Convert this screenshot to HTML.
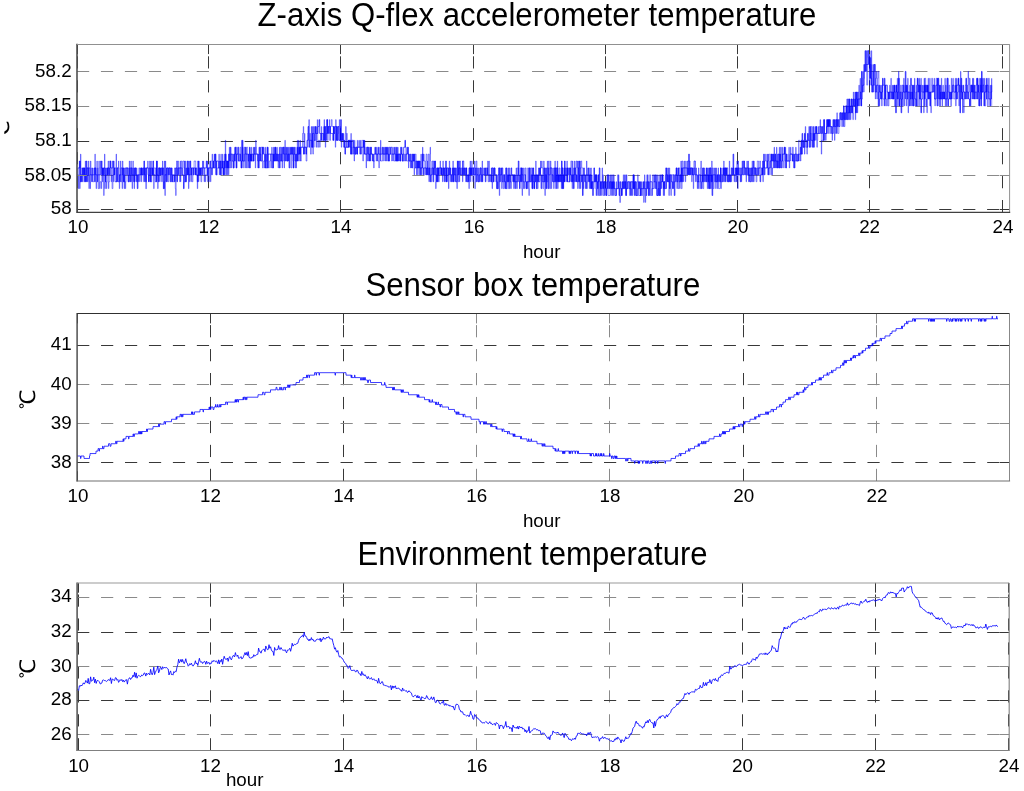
<!DOCTYPE html><html><head><meta charset="utf-8"><title>Temperature plots</title>
<style>html,body{margin:0;padding:0;background:#fff;}svg{display:block;}</style></head><body>
<svg width="1024" height="791" viewBox="0 0 1024 791">
<rect x="0" y="0" width="1024" height="791" fill="#fff"/>
<g stroke-width="1" stroke-dasharray="12.2 11.75" fill="none"><line x1="77.5" y1="212.2" x2="77.5" y2="44.3" stroke="#383838"/><line x1="208.5" y1="212.2" x2="208.5" y2="44.3" stroke="#383838"/><line x1="340.5" y1="212.2" x2="340.5" y2="44.3" stroke="#383838"/><line x1="473.5" y1="212.2" x2="473.5" y2="44.3" stroke="#383838"/><line x1="605.5" y1="212.2" x2="605.5" y2="44.3" stroke="#383838"/><line x1="737.5" y1="212.2" x2="737.5" y2="44.3" stroke="#383838"/><line x1="869.5" y1="212.2" x2="869.5" y2="44.3" stroke="#383838"/><line x1="1002.5" y1="212.2" x2="1002.5" y2="44.3" stroke="#383838"/><line x1="77" y1="71.5" x2="1009.7" y2="71.5" stroke="#8a8a8a"/><line x1="77" y1="106.5" x2="1009.7" y2="106.5" stroke="#8a8a8a"/><line x1="77" y1="141.5" x2="1009.7" y2="141.5" stroke="#383838"/><line x1="77" y1="175.5" x2="1009.7" y2="175.5" stroke="#8a8a8a"/><line x1="77" y1="209.5" x2="1009.7" y2="209.5" stroke="#383838"/></g>
<polyline points="77.3,181.72 77.7,181.72 77.7,174.83 78.1,174.83 78.1,174.83 78.5,174.83 78.5,188.62 78.9,188.62 78.9,174.83 79.3,174.83 79.3,161.04 79.7,161.04 79.7,188.62 80.1,188.62 80.1,181.72 80.5,181.72 80.5,154.14 80.9,154.14 80.9,167.93 81.3,167.93 81.3,174.83 81.7,174.83 81.7,174.83 82.1,174.83 82.1,167.93 82.5,167.93 82.5,181.72 82.9,181.72 82.9,181.72 83.3,181.72 83.3,167.93 83.7,167.93 83.7,167.93 84.1,167.93 84.1,174.83 84.5,174.83 84.5,167.93 84.9,167.93 84.9,174.83 85.3,174.83 85.3,161.04 85.7,161.04 85.7,181.72 86.1,181.72 86.1,167.93 86.5,167.93 86.5,174.83 86.9,174.83 86.9,181.72 87.3,181.72 87.3,167.93 87.7,167.93 87.7,181.72 88.1,181.72 88.1,167.93 88.5,167.93 88.5,161.04 88.9,161.04 88.9,188.62 89.3,188.62 89.3,174.83 89.7,174.83 89.7,181.72 90.1,181.72 90.1,188.62 90.5,188.62 90.5,161.04 90.9,161.04 90.9,174.83 91.3,174.83 91.3,181.72 91.7,181.72 91.7,167.93 92.1,167.93 92.1,181.72 92.5,181.72 92.5,167.93 92.9,167.93 92.9,181.72 93.3,181.72 93.3,181.72 93.7,181.72 93.7,181.72 94.1,181.72 94.1,174.83 94.5,174.83 94.5,174.83 94.9,174.83 94.9,154.14 95.3,154.14 95.3,167.93 95.7,167.93 95.7,174.83 96.1,174.83 96.1,188.62 96.5,188.62 96.5,181.72 96.9,181.72 96.9,161.04 97.3,161.04 97.3,174.83 97.7,174.83 97.7,167.93 98.1,167.93 98.1,188.62 98.5,188.62 98.5,188.62 98.9,188.62 98.9,161.04 99.3,161.04 99.3,167.93 99.7,167.93 99.7,188.62 100.1,188.62 100.1,181.72 100.5,181.72 100.5,181.72 100.9,181.72 100.9,181.72 101.3,181.72 101.3,188.62 101.7,188.62 101.7,161.04 102.1,161.04 102.1,174.83 102.5,174.83 102.5,181.72 102.9,181.72 102.9,167.93 103.3,167.93 103.3,181.72 103.7,181.72 103.7,195.51 104.1,195.51 104.1,167.93 104.5,167.93 104.5,154.14 104.9,154.14 104.9,188.62 105.3,188.62 105.3,167.93 105.7,167.93 105.7,181.72 106.1,181.72 106.1,181.72 106.5,181.72 106.5,188.62 106.9,188.62 106.9,181.72 107.3,181.72 107.3,167.93 107.7,167.93 107.7,174.83 108.1,174.83 108.1,161.04 108.5,161.04 108.5,188.62 108.9,188.62 108.9,181.72 109.3,181.72 109.3,181.72 109.7,181.72 109.7,161.04 110.1,161.04 110.1,161.04 110.5,161.04 110.5,174.83 110.9,174.83 110.9,174.83 111.3,174.83 111.3,181.72 111.7,181.72 111.7,167.93 112.1,167.93 112.1,188.62 112.5,188.62 112.5,188.62 112.9,188.62 112.9,174.83 113.3,174.83 113.3,181.72 113.7,181.72 113.7,161.04 114.1,161.04 114.1,167.93 114.5,167.93 114.5,174.83 114.9,174.83 114.9,167.93 115.3,167.93 115.3,167.93 115.7,167.93 115.7,167.93 116.1,167.93 116.1,154.14 116.5,154.14 116.5,181.72 116.9,181.72 116.9,167.93 117.3,167.93 117.3,181.72 117.7,181.72 117.7,174.83 118.1,174.83 118.1,167.93 118.5,167.93 118.5,161.04 118.9,161.04 118.9,167.93 119.3,167.93 119.3,188.62 119.7,188.62 119.7,174.83 120.1,174.83 120.1,181.72 120.5,181.72 120.5,161.04 120.9,161.04 120.9,181.72 121.3,181.72 121.3,181.72 121.7,181.72 121.7,174.83 122.1,174.83 122.1,188.62 122.5,188.62 122.5,161.04 122.9,161.04 122.9,167.93 123.3,167.93 123.3,181.72 123.7,181.72 123.7,174.83 124.1,174.83 124.1,188.62 124.5,188.62 124.5,167.93 124.9,167.93 124.9,181.72 125.3,181.72 125.3,188.62 125.7,188.62 125.7,181.72 126.1,181.72 126.1,174.83 126.5,174.83 126.5,167.93 126.9,167.93 126.9,174.83 127.3,174.83 127.3,167.93 127.7,167.93 127.7,174.83 128.1,174.83 128.1,181.72 128.5,181.72 128.5,181.72 128.9,181.72 128.9,181.72 129.3,181.72 129.3,161.04 129.7,161.04 129.7,181.72 130.1,181.72 130.1,181.72 130.5,181.72 130.5,174.83 130.9,174.83 130.9,161.04 131.3,161.04 131.3,167.93 131.7,167.93 131.7,167.93 132.1,167.93 132.1,188.62 132.5,188.62 132.5,167.93 132.9,167.93 132.9,161.04 133.3,161.04 133.3,181.72 133.7,181.72 133.7,174.83 134.1,174.83 134.1,188.62 134.5,188.62 134.5,174.83 134.9,174.83 134.9,167.93 135.3,167.93 135.3,167.93 135.7,167.93 135.7,167.93 136.1,167.93 136.1,181.72 136.5,181.72 136.5,167.93 136.9,167.93 136.9,181.72 137.3,181.72 137.3,181.72 137.7,181.72 137.7,174.83 138.1,174.83 138.1,174.83 138.5,174.83 138.5,181.72 138.9,181.72 138.9,167.93 139.3,167.93 139.3,167.93 139.7,167.93 139.7,181.72 140.1,181.72 140.1,167.93 140.5,167.93 140.5,174.83 140.9,174.83 140.9,167.93 141.3,167.93 141.3,181.72 141.7,181.72 141.7,167.93 142.1,167.93 142.1,174.83 142.5,174.83 142.5,174.83 142.9,174.83 142.9,167.93 143.3,167.93 143.3,174.83 143.7,174.83 143.7,181.72 144.1,181.72 144.1,167.93 144.5,167.93 144.5,181.72 144.9,181.72 144.9,174.83 145.3,174.83 145.3,174.83 145.7,174.83 145.7,188.62 146.1,188.62 146.1,188.62 146.5,188.62 146.5,167.93 146.9,167.93 146.9,167.93 147.3,167.93 147.3,167.93 147.7,167.93 147.7,161.04 148.1,161.04 148.1,167.93 148.5,167.93 148.5,181.72 148.9,181.72 148.9,174.83 149.3,174.83 149.3,174.83 149.7,174.83 149.7,161.04 150.1,161.04 150.1,174.83 150.5,174.83 150.5,181.72 150.9,181.72 150.9,161.04 151.3,161.04 151.3,167.93 151.7,167.93 151.7,167.93 152.1,167.93 152.1,174.83 152.5,174.83 152.5,167.93 152.9,167.93 152.9,174.83 153.3,174.83 153.3,174.83 153.7,174.83 153.7,188.62 154.1,188.62 154.1,167.93 154.5,167.93 154.5,167.93 154.9,167.93 154.9,167.93 155.3,167.93 155.3,167.93 155.7,167.93 155.7,174.83 156.1,174.83 156.1,167.93 156.5,167.93 156.5,181.72 156.9,181.72 156.9,161.04 157.3,161.04 157.3,174.83 157.7,174.83 157.7,188.62 158.1,188.62 158.1,167.93 158.5,167.93 158.5,167.93 158.9,167.93 158.9,174.83 159.3,174.83 159.3,167.93 159.7,167.93 159.7,181.72 160.1,181.72 160.1,167.93 160.5,167.93 160.5,174.83 160.9,174.83 160.9,167.93 161.3,167.93 161.3,174.83 161.7,174.83 161.7,181.72 162.1,181.72 162.1,174.83 162.5,174.83 162.5,161.04 162.9,161.04 162.9,181.72 163.3,181.72 163.3,188.62 163.7,188.62 163.7,188.62 164.1,188.62 164.1,174.83 164.5,174.83 164.5,161.04 164.9,161.04 164.9,195.51 165.3,195.51 165.3,161.04 165.7,161.04 165.7,174.83 166.1,174.83 166.1,174.83 166.5,174.83 166.5,167.93 166.9,167.93 166.9,181.72 167.3,181.72 167.3,167.93 167.7,167.93 167.7,174.83 168.1,174.83 168.1,181.72 168.5,181.72 168.5,181.72 168.9,181.72 168.9,167.93 169.3,167.93 169.3,167.93 169.7,167.93 169.7,174.83 170.1,174.83 170.1,174.83 170.5,174.83 170.5,167.93 170.9,167.93 170.9,167.93 171.3,167.93 171.3,181.72 171.7,181.72 171.7,181.72 172.1,181.72 172.1,174.83 172.5,174.83 172.5,174.83 172.9,174.83 172.9,181.72 173.3,181.72 173.3,181.72 173.7,181.72 173.7,181.72 174.1,181.72 174.1,174.83 174.5,174.83 174.5,167.93 174.9,167.93 174.9,167.93 175.3,167.93 175.3,188.62 175.7,188.62 175.7,195.51 176.1,195.51 176.1,174.83 176.5,174.83 176.5,161.04 176.9,161.04 176.9,161.04 177.3,161.04 177.3,174.83 177.7,174.83 177.7,161.04 178.1,161.04 178.1,161.04 178.5,161.04 178.5,174.83 178.9,174.83 178.9,167.93 179.3,167.93 179.3,174.83 179.7,174.83 179.7,181.72 180.1,181.72 180.1,161.04 180.5,161.04 180.5,181.72 180.9,181.72 180.9,167.93 181.3,167.93 181.3,161.04 181.7,161.04 181.7,161.04 182.1,161.04 182.1,167.93 182.5,167.93 182.5,174.83 182.9,174.83 182.9,161.04 183.3,161.04 183.3,161.04 183.7,161.04 183.7,161.04 184.1,161.04 184.1,167.93 184.5,167.93 184.5,167.93 184.9,167.93 184.9,174.83 185.3,174.83 185.3,181.72 185.7,181.72 185.7,174.83 186.1,174.83 186.1,167.93 186.5,167.93 186.5,174.83 186.9,174.83 186.9,167.93 187.3,167.93 187.3,174.83 187.7,174.83 187.7,174.83 188.1,174.83 188.1,161.04 188.5,161.04 188.5,188.62 188.9,188.62 188.9,174.83 189.3,174.83 189.3,181.72 189.7,181.72 189.7,161.04 190.1,161.04 190.1,174.83 190.5,174.83 190.5,174.83 190.9,174.83 190.9,181.72 191.3,181.72 191.3,167.93 191.7,167.93 191.7,174.83 192.1,174.83 192.1,181.72 192.5,181.72 192.5,181.72 192.9,181.72 192.9,174.83 193.3,174.83 193.3,167.93 193.7,167.93 193.7,167.93 194.1,167.93 194.1,161.04 194.5,161.04 194.5,161.04 194.9,161.04 194.9,161.04 195.3,161.04 195.3,161.04 195.7,161.04 195.7,174.83 196.1,174.83 196.1,167.93 196.5,167.93 196.5,167.93 196.9,167.93 196.9,174.83 197.3,174.83 197.3,188.62 197.7,188.62 197.7,161.04 198.1,161.04 198.1,174.83 198.5,174.83 198.5,181.72 198.9,181.72 198.9,167.93 199.3,167.93 199.3,167.93 199.7,167.93 199.7,174.83 200.1,174.83 200.1,174.83 200.5,174.83 200.5,167.93 200.9,167.93 200.9,181.72 201.3,181.72 201.3,181.72 201.7,181.72 201.7,167.93 202.1,167.93 202.1,167.93 202.5,167.93 202.5,161.04 202.9,161.04 202.9,167.93 203.3,167.93 203.3,161.04 203.7,161.04 203.7,174.83 204.1,174.83 204.1,181.72 204.5,181.72 204.5,167.93 204.9,167.93 204.9,174.83 205.3,174.83 205.3,181.72 205.7,181.72 205.7,174.83 206.1,174.83 206.1,174.83 206.5,174.83 206.5,174.83 206.9,174.83 206.9,167.93 207.3,167.93 207.3,161.04 207.7,161.04 207.7,181.72 208.1,181.72 208.1,174.83 208.5,174.83 208.5,167.93 208.9,167.93 208.9,181.72 209.3,181.72 209.3,167.93 209.7,167.93 209.7,167.93 210.1,167.93 210.1,167.93 210.5,167.93 210.5,181.72 210.9,181.72 210.9,167.93 211.3,167.93 211.3,161.04 211.7,161.04 211.7,161.04 212.1,161.04 212.1,154.14 212.5,154.14 212.5,167.93 212.9,167.93 212.9,161.04 213.3,161.04 213.3,167.93 213.7,167.93 213.7,167.93 214.1,167.93 214.1,154.14 214.5,154.14 214.5,161.04 214.9,161.04 214.9,154.14 215.3,154.14 215.3,161.04 215.7,161.04 215.7,161.04 216.1,161.04 216.1,174.83 216.5,174.83 216.5,174.83 216.9,174.83 216.9,174.83 217.3,174.83 217.3,167.93 217.7,167.93 217.7,167.93 218.1,167.93 218.1,167.93 218.5,167.93 218.5,167.93 218.9,167.93 218.9,154.14 219.3,154.14 219.3,174.83 219.7,174.83 219.7,161.04 220.1,161.04 220.1,174.83 220.5,174.83 220.5,167.93 220.9,167.93 220.9,154.14 221.3,154.14 221.3,161.04 221.7,161.04 221.7,167.93 222.1,167.93 222.1,167.93 222.5,167.93 222.5,154.14 222.9,154.14 222.9,167.93 223.3,167.93 223.3,174.83 223.7,174.83 223.7,167.93 224.1,167.93 224.1,174.83 224.5,174.83 224.5,154.14 224.9,154.14 224.9,174.83 225.3,174.83 225.3,140.35 225.7,140.35 225.7,167.93 226.1,167.93 226.1,167.93 226.5,167.93 226.5,161.04 226.9,161.04 226.9,167.93 227.3,167.93 227.3,161.04 227.7,161.04 227.7,167.93 228.1,167.93 228.1,161.04 228.5,161.04 228.5,174.83 228.9,174.83 228.9,167.93 229.3,167.93 229.3,147.25 229.7,147.25 229.7,167.93 230.1,167.93 230.1,167.93 230.5,167.93 230.5,154.14 230.9,154.14 230.9,154.14 231.3,154.14 231.3,167.93 231.7,167.93 231.7,161.04 232.1,161.04 232.1,154.14 232.5,154.14 232.5,154.14 232.9,154.14 232.9,154.14 233.3,154.14 233.3,167.93 233.7,167.93 233.7,167.93 234.1,167.93 234.1,154.14 234.5,154.14 234.5,154.14 234.9,154.14 234.9,147.25 235.3,147.25 235.3,154.14 235.7,154.14 235.7,161.04 236.1,161.04 236.1,167.93 236.5,167.93 236.5,147.25 236.9,147.25 236.9,147.25 237.3,147.25 237.3,154.14 237.7,154.14 237.7,154.14 238.1,154.14 238.1,161.04 238.5,161.04 238.5,161.04 238.9,161.04 238.9,154.14 239.3,154.14 239.3,154.14 239.7,154.14 239.7,154.14 240.1,154.14 240.1,147.25 240.5,147.25 240.5,147.25 240.9,147.25 240.9,161.04 241.3,161.04 241.3,167.93 241.7,167.93 241.7,140.35 242.1,140.35 242.1,161.04 242.5,161.04 242.5,147.25 242.9,147.25 242.9,167.93 243.3,167.93 243.3,161.04 243.7,161.04 243.7,154.14 244.1,154.14 244.1,147.25 244.5,147.25 244.5,147.25 244.9,147.25 244.9,167.93 245.3,167.93 245.3,161.04 245.7,161.04 245.7,154.14 246.1,154.14 246.1,167.93 246.5,167.93 246.5,147.25 246.9,147.25 246.9,147.25 247.3,147.25 247.3,147.25 247.7,147.25 247.7,167.93 248.1,167.93 248.1,154.14 248.5,154.14 248.5,161.04 248.9,161.04 248.9,154.14 249.3,154.14 249.3,154.14 249.7,154.14 249.7,154.14 250.1,154.14 250.1,167.93 250.5,167.93 250.5,154.14 250.9,154.14 250.9,161.04 251.3,161.04 251.3,147.25 251.7,147.25 251.7,161.04 252.1,161.04 252.1,161.04 252.5,161.04 252.5,161.04 252.9,161.04 252.9,161.04 253.3,161.04 253.3,147.25 253.7,147.25 253.7,161.04 254.1,161.04 254.1,147.25 254.5,147.25 254.5,154.14 254.9,154.14 254.9,147.25 255.3,147.25 255.3,167.93 255.7,167.93 255.7,140.35 256.1,140.35 256.1,147.25 256.5,147.25 256.5,154.14 256.9,154.14 256.9,154.14 257.3,154.14 257.3,154.14 257.7,154.14 257.7,161.04 258.1,161.04 258.1,154.14 258.5,154.14 258.5,161.04 258.9,161.04 258.9,167.93 259.3,167.93 259.3,154.14 259.7,154.14 259.7,161.04 260.1,161.04 260.1,147.25 260.5,147.25 260.5,161.04 260.9,161.04 260.9,147.25 261.3,147.25 261.3,147.25 261.7,147.25 261.7,147.25 262.1,147.25 262.1,147.25 262.5,147.25 262.5,167.93 262.9,167.93 262.9,167.93 263.3,167.93 263.3,161.04 263.7,161.04 263.7,161.04 264.1,161.04 264.1,161.04 264.5,161.04 264.5,167.93 264.9,167.93 264.9,167.93 265.3,167.93 265.3,147.25 265.7,147.25 265.7,161.04 266.1,161.04 266.1,161.04 266.5,161.04 266.5,161.04 266.9,161.04 266.9,147.25 267.3,147.25 267.3,147.25 267.7,147.25 267.7,167.93 268.1,167.93 268.1,154.14 268.5,154.14 268.5,167.93 268.9,167.93 268.9,167.93 269.3,167.93 269.3,161.04 269.7,161.04 269.7,161.04 270.1,161.04 270.1,161.04 270.5,161.04 270.5,154.14 270.9,154.14 270.9,167.93 271.3,167.93 271.3,161.04 271.7,161.04 271.7,147.25 272.1,147.25 272.1,167.93 272.5,167.93 272.5,167.93 272.9,167.93 272.9,161.04 273.3,161.04 273.3,147.25 273.7,147.25 273.7,161.04 274.1,161.04 274.1,154.14 274.5,154.14 274.5,147.25 274.9,147.25 274.9,161.04 275.3,161.04 275.3,147.25 275.7,147.25 275.7,161.04 276.1,161.04 276.1,154.14 276.5,154.14 276.5,154.14 276.9,154.14 276.9,147.25 277.3,147.25 277.3,161.04 277.7,161.04 277.7,154.14 278.1,154.14 278.1,167.93 278.5,167.93 278.5,161.04 278.9,161.04 278.9,154.14 279.3,154.14 279.3,147.25 279.7,147.25 279.7,154.14 280.1,154.14 280.1,147.25 280.5,147.25 280.5,147.25 280.9,147.25 280.9,161.04 281.3,161.04 281.3,147.25 281.7,147.25 281.7,154.14 282.1,154.14 282.1,167.93 282.5,167.93 282.5,147.25 282.9,147.25 282.9,154.14 283.3,154.14 283.3,147.25 283.7,147.25 283.7,154.14 284.1,154.14 284.1,167.93 284.5,167.93 284.5,154.14 284.9,154.14 284.9,140.35 285.3,140.35 285.3,154.14 285.7,154.14 285.7,147.25 286.1,147.25 286.1,154.14 286.5,154.14 286.5,147.25 286.9,147.25 286.9,161.04 287.3,161.04 287.3,147.25 287.7,147.25 287.7,161.04 288.1,161.04 288.1,147.25 288.5,147.25 288.5,161.04 288.9,161.04 288.9,154.14 289.3,154.14 289.3,147.25 289.7,147.25 289.7,154.14 290.1,154.14 290.1,154.14 290.5,154.14 290.5,147.25 290.9,147.25 290.9,167.93 291.3,167.93 291.3,167.93 291.7,167.93 291.7,154.14 292.1,154.14 292.1,147.25 292.5,147.25 292.5,154.14 292.9,154.14 292.9,161.04 293.3,161.04 293.3,167.93 293.7,167.93 293.7,154.14 294.1,154.14 294.1,154.14 294.5,154.14 294.5,154.14 294.9,154.14 294.9,154.14 295.3,154.14 295.3,161.04 295.7,161.04 295.7,147.25 296.1,147.25 296.1,161.04 296.5,161.04 296.5,161.04 296.9,161.04 296.9,161.04 297.3,161.04 297.3,140.35 297.7,140.35 297.7,154.14 298.1,154.14 298.1,161.04 298.5,161.04 298.5,140.35 298.9,140.35 298.9,154.14 299.3,154.14 299.3,147.25 299.7,147.25 299.7,161.04 300.1,161.04 300.1,140.35 300.5,140.35 300.5,161.04 300.9,161.04 300.9,161.04 301.3,161.04 301.3,147.25 301.7,147.25 301.7,147.25 302.1,147.25 302.1,147.25 302.5,147.25 302.5,133.46 302.9,133.46 302.9,133.46 303.3,133.46 303.3,126.56 303.7,126.56 303.7,147.25 304.1,147.25 304.1,154.14 304.5,154.14 304.5,133.46 304.9,133.46 304.9,147.25 305.3,147.25 305.3,147.25 305.7,147.25 305.7,147.25 306.1,147.25 306.1,161.04 306.5,161.04 306.5,161.04 306.9,161.04 306.9,147.25 307.3,147.25 307.3,140.35 307.7,140.35 307.7,133.46 308.1,133.46 308.1,126.56 308.5,126.56 308.5,126.56 308.9,126.56 308.9,119.67 309.3,119.67 309.3,140.35 309.7,140.35 309.7,133.46 310.1,133.46 310.1,133.46 310.5,133.46 310.5,154.14 310.9,154.14 310.9,154.14 311.3,154.14 311.3,126.56 311.7,126.56 311.7,147.25 312.1,147.25 312.1,126.56 312.5,126.56 312.5,147.25 312.9,147.25 312.9,154.14 313.3,154.14 313.3,133.46 313.7,133.46 313.7,147.25 314.1,147.25 314.1,140.35 314.5,140.35 314.5,140.35 314.9,140.35 314.9,140.35 315.3,140.35 315.3,140.35 315.7,140.35 315.7,126.56 316.1,126.56 316.1,147.25 316.5,147.25 316.5,133.46 316.9,133.46 316.9,133.46 317.3,133.46 317.3,119.67 317.7,119.67 317.7,147.25 318.1,147.25 318.1,147.25 318.5,147.25 318.5,140.35 318.9,140.35 318.9,140.35 319.3,140.35 319.3,140.35 319.7,140.35 319.7,147.25 320.1,147.25 320.1,140.35 320.5,140.35 320.5,140.35 320.9,140.35 320.9,133.46 321.3,133.46 321.3,126.56 321.7,126.56 321.7,133.46 322.1,133.46 322.1,140.35 322.5,140.35 322.5,140.35 322.9,140.35 322.9,140.35 323.3,140.35 323.3,140.35 323.7,140.35 323.7,133.46 324.1,133.46 324.1,119.67 324.5,119.67 324.5,126.56 324.9,126.56 324.9,140.35 325.3,140.35 325.3,147.25 325.7,147.25 325.7,140.35 326.1,140.35 326.1,133.46 326.5,133.46 326.5,133.46 326.9,133.46 326.9,119.67 327.3,119.67 327.3,140.35 327.7,140.35 327.7,140.35 328.1,140.35 328.1,126.56 328.5,126.56 328.5,126.56 328.9,126.56 328.9,126.56 329.3,126.56 329.3,119.67 329.7,119.67 329.7,140.35 330.1,140.35 330.1,140.35 330.5,140.35 330.5,126.56 330.9,126.56 330.9,126.56 331.3,126.56 331.3,119.67 331.7,119.67 331.7,119.67 332.1,119.67 332.1,126.56 332.5,126.56 332.5,126.56 332.9,126.56 332.9,126.56 333.3,126.56 333.3,140.35 333.7,140.35 333.7,126.56 334.1,126.56 334.1,133.46 334.5,133.46 334.5,133.46 334.9,133.46 334.9,140.35 335.3,140.35 335.3,147.25 335.7,147.25 335.7,119.67 336.1,119.67 336.1,126.56 336.5,126.56 336.5,126.56 336.9,126.56 336.9,140.35 337.3,140.35 337.3,140.35 337.7,140.35 337.7,140.35 338.1,140.35 338.1,133.46 338.5,133.46 338.5,126.56 338.9,126.56 338.9,126.56 339.3,126.56 339.3,119.67 339.7,119.67 339.7,140.35 340.1,140.35 340.1,126.56 340.5,126.56 340.5,140.35 340.9,140.35 340.9,133.46 341.3,133.46 341.3,147.25 341.7,147.25 341.7,133.46 342.1,133.46 342.1,133.46 342.5,133.46 342.5,140.35 342.9,140.35 342.9,140.35 343.3,140.35 343.3,133.46 343.7,133.46 343.7,147.25 344.1,147.25 344.1,140.35 344.5,140.35 344.5,147.25 344.9,147.25 344.9,147.25 345.3,147.25 345.3,133.46 345.7,133.46 345.7,126.56 346.1,126.56 346.1,147.25 346.5,147.25 346.5,133.46 346.9,133.46 346.9,133.46 347.3,133.46 347.3,147.25 347.7,147.25 347.7,147.25 348.1,147.25 348.1,140.35 348.5,140.35 348.5,147.25 348.9,147.25 348.9,140.35 349.3,140.35 349.3,147.25 349.7,147.25 349.7,140.35 350.1,140.35 350.1,140.35 350.5,140.35 350.5,154.14 350.9,154.14 350.9,133.46 351.3,133.46 351.3,147.25 351.7,147.25 351.7,154.14 352.1,154.14 352.1,154.14 352.5,154.14 352.5,147.25 352.9,147.25 352.9,140.35 353.3,140.35 353.3,154.14 353.7,154.14 353.7,147.25 354.1,147.25 354.1,161.04 354.5,161.04 354.5,140.35 354.9,140.35 354.9,154.14 355.3,154.14 355.3,154.14 355.7,154.14 355.7,154.14 356.1,154.14 356.1,147.25 356.5,147.25 356.5,147.25 356.9,147.25 356.9,154.14 357.3,154.14 357.3,140.35 357.7,140.35 357.7,147.25 358.1,147.25 358.1,147.25 358.5,147.25 358.5,147.25 358.9,147.25 358.9,140.35 359.3,140.35 359.3,147.25 359.7,147.25 359.7,147.25 360.1,147.25 360.1,140.35 360.5,140.35 360.5,147.25 360.9,147.25 360.9,147.25 361.3,147.25 361.3,154.14 361.7,154.14 361.7,140.35 362.1,140.35 362.1,140.35 362.5,140.35 362.5,140.35 362.9,140.35 362.9,161.04 363.3,161.04 363.3,154.14 363.7,154.14 363.7,140.35 364.1,140.35 364.1,154.14 364.5,154.14 364.5,140.35 364.9,140.35 364.9,147.25 365.3,147.25 365.3,154.14 365.7,154.14 365.7,154.14 366.1,154.14 366.1,167.93 366.5,167.93 366.5,147.25 366.9,147.25 366.9,147.25 367.3,147.25 367.3,161.04 367.7,161.04 367.7,147.25 368.1,147.25 368.1,147.25 368.5,147.25 368.5,161.04 368.9,161.04 368.9,154.14 369.3,154.14 369.3,147.25 369.7,147.25 369.7,154.14 370.1,154.14 370.1,161.04 370.5,161.04 370.5,147.25 370.9,147.25 370.9,147.25 371.3,147.25 371.3,154.14 371.7,154.14 371.7,154.14 372.1,154.14 372.1,161.04 372.5,161.04 372.5,154.14 372.9,154.14 372.9,161.04 373.3,161.04 373.3,161.04 373.7,161.04 373.7,167.93 374.1,167.93 374.1,161.04 374.5,161.04 374.5,161.04 374.9,161.04 374.9,154.14 375.3,154.14 375.3,154.14 375.7,154.14 375.7,154.14 376.1,154.14 376.1,147.25 376.5,147.25 376.5,161.04 376.9,161.04 376.9,154.14 377.3,154.14 377.3,161.04 377.7,161.04 377.7,154.14 378.1,154.14 378.1,161.04 378.5,161.04 378.5,161.04 378.9,161.04 378.9,167.93 379.3,167.93 379.3,154.14 379.7,154.14 379.7,147.25 380.1,147.25 380.1,161.04 380.5,161.04 380.5,140.35 380.9,140.35 380.9,161.04 381.3,161.04 381.3,161.04 381.7,161.04 381.7,161.04 382.1,161.04 382.1,161.04 382.5,161.04 382.5,154.14 382.9,154.14 382.9,154.14 383.3,154.14 383.3,147.25 383.7,147.25 383.7,161.04 384.1,161.04 384.1,147.25 384.5,147.25 384.5,154.14 384.9,154.14 384.9,154.14 385.3,154.14 385.3,161.04 385.7,161.04 385.7,147.25 386.1,147.25 386.1,161.04 386.5,161.04 386.5,154.14 386.9,154.14 386.9,154.14 387.3,154.14 387.3,154.14 387.7,154.14 387.7,161.04 388.1,161.04 388.1,147.25 388.5,147.25 388.5,161.04 388.9,161.04 388.9,161.04 389.3,161.04 389.3,154.14 389.7,154.14 389.7,154.14 390.1,154.14 390.1,154.14 390.5,154.14 390.5,154.14 390.9,154.14 390.9,154.14 391.3,154.14 391.3,154.14 391.7,154.14 391.7,161.04 392.1,161.04 392.1,154.14 392.5,154.14 392.5,154.14 392.9,154.14 392.9,161.04 393.3,161.04 393.3,154.14 393.7,154.14 393.7,147.25 394.1,147.25 394.1,161.04 394.5,161.04 394.5,161.04 394.9,161.04 394.9,161.04 395.3,161.04 395.3,154.14 395.7,154.14 395.7,161.04 396.1,161.04 396.1,161.04 396.5,161.04 396.5,154.14 396.9,154.14 396.9,154.14 397.3,154.14 397.3,161.04 397.7,161.04 397.7,147.25 398.1,147.25 398.1,161.04 398.5,161.04 398.5,154.14 398.9,154.14 398.9,161.04 399.3,161.04 399.3,154.14 399.7,154.14 399.7,154.14 400.1,154.14 400.1,161.04 400.5,161.04 400.5,154.14 400.9,154.14 400.9,154.14 401.3,154.14 401.3,154.14 401.7,154.14 401.7,147.25 402.1,147.25 402.1,161.04 402.5,161.04 402.5,161.04 402.9,161.04 402.9,161.04 403.3,161.04 403.3,161.04 403.7,161.04 403.7,154.14 404.1,154.14 404.1,154.14 404.5,154.14 404.5,161.04 404.9,161.04 404.9,161.04 405.3,161.04 405.3,154.14 405.7,154.14 405.7,161.04 406.1,161.04 406.1,154.14 406.5,154.14 406.5,161.04 406.9,161.04 406.9,161.04 407.3,161.04 407.3,161.04 407.7,161.04 407.7,161.04 408.1,161.04 408.1,147.25 408.5,147.25 408.5,167.93 408.9,167.93 408.9,154.14 409.3,154.14 409.3,161.04 409.7,161.04 409.7,161.04 410.1,161.04 410.1,161.04 410.5,161.04 410.5,167.93 410.9,167.93 410.9,161.04 411.3,161.04 411.3,167.93 411.7,167.93 411.7,154.14 412.1,154.14 412.1,154.14 412.5,154.14 412.5,161.04 412.9,161.04 412.9,161.04 413.3,161.04 413.3,161.04 413.7,161.04 413.7,154.14 414.1,154.14 414.1,174.83 414.5,174.83 414.5,167.93 414.9,167.93 414.9,161.04 415.3,161.04 415.3,154.14 415.7,154.14 415.7,154.14 416.1,154.14 416.1,167.93 416.5,167.93 416.5,174.83 416.9,174.83 416.9,161.04 417.3,161.04 417.3,167.93 417.7,167.93 417.7,174.83 418.1,174.83 418.1,161.04 418.5,161.04 418.5,167.93 418.9,167.93 418.9,167.93 419.3,167.93 419.3,174.83 419.7,174.83 419.7,161.04 420.1,161.04 420.1,167.93 420.5,167.93 420.5,167.93 420.9,167.93 420.9,154.14 421.3,154.14 421.3,167.93 421.7,167.93 421.7,174.83 422.1,174.83 422.1,167.93 422.5,167.93 422.5,147.25 422.9,147.25 422.9,154.14 423.3,154.14 423.3,161.04 423.7,161.04 423.7,154.14 424.1,154.14 424.1,161.04 424.5,161.04 424.5,161.04 424.9,161.04 424.9,167.93 425.3,167.93 425.3,174.83 425.7,174.83 425.7,161.04 426.1,161.04 426.1,154.14 426.5,154.14 426.5,154.14 426.9,154.14 426.9,174.83 427.3,174.83 427.3,161.04 427.7,161.04 427.7,174.83 428.1,174.83 428.1,154.14 428.5,154.14 428.5,154.14 428.9,154.14 428.9,181.72 429.3,181.72 429.3,167.93 429.7,167.93 429.7,154.14 430.1,154.14 430.1,147.25 430.5,147.25 430.5,161.04 430.9,161.04 430.9,181.72 431.3,181.72 431.3,181.72 431.7,181.72 431.7,174.83 432.1,174.83 432.1,161.04 432.5,161.04 432.5,161.04 432.9,161.04 432.9,174.83 433.3,174.83 433.3,161.04 433.7,161.04 433.7,161.04 434.1,161.04 434.1,174.83 434.5,174.83 434.5,161.04 434.9,161.04 434.9,174.83 435.3,174.83 435.3,174.83 435.7,174.83 435.7,188.62 436.1,188.62 436.1,181.72 436.5,181.72 436.5,167.93 436.9,167.93 436.9,181.72 437.3,181.72 437.3,167.93 437.7,167.93 437.7,181.72 438.1,181.72 438.1,167.93 438.5,167.93 438.5,181.72 438.9,181.72 438.9,181.72 439.3,181.72 439.3,174.83 439.7,174.83 439.7,167.93 440.1,167.93 440.1,161.04 440.5,161.04 440.5,167.93 440.9,167.93 440.9,174.83 441.3,174.83 441.3,167.93 441.7,167.93 441.7,167.93 442.1,167.93 442.1,174.83 442.5,174.83 442.5,181.72 442.9,181.72 442.9,161.04 443.3,161.04 443.3,174.83 443.7,174.83 443.7,167.93 444.1,167.93 444.1,181.72 444.5,181.72 444.5,174.83 444.9,174.83 444.9,181.72 445.3,181.72 445.3,174.83 445.7,174.83 445.7,167.93 446.1,167.93 446.1,181.72 446.5,181.72 446.5,167.93 446.9,167.93 446.9,181.72 447.3,181.72 447.3,174.83 447.7,174.83 447.7,174.83 448.1,174.83 448.1,174.83 448.5,174.83 448.5,188.62 448.9,188.62 448.9,167.93 449.3,167.93 449.3,161.04 449.7,161.04 449.7,167.93 450.1,167.93 450.1,181.72 450.5,181.72 450.5,174.83 450.9,174.83 450.9,174.83 451.3,174.83 451.3,174.83 451.7,174.83 451.7,181.72 452.1,181.72 452.1,167.93 452.5,167.93 452.5,174.83 452.9,174.83 452.9,161.04 453.3,161.04 453.3,181.72 453.7,181.72 453.7,174.83 454.1,174.83 454.1,174.83 454.5,174.83 454.5,167.93 454.9,167.93 454.9,167.93 455.3,167.93 455.3,181.72 455.7,181.72 455.7,174.83 456.1,174.83 456.1,167.93 456.5,167.93 456.5,174.83 456.9,174.83 456.9,188.62 457.3,188.62 457.3,161.04 457.7,161.04 457.7,167.93 458.1,167.93 458.1,181.72 458.5,181.72 458.5,181.72 458.9,181.72 458.9,161.04 459.3,161.04 459.3,181.72 459.7,181.72 459.7,161.04 460.1,161.04 460.1,161.04 460.5,161.04 460.5,174.83 460.9,174.83 460.9,167.93 461.3,167.93 461.3,167.93 461.7,167.93 461.7,174.83 462.1,174.83 462.1,167.93 462.5,167.93 462.5,181.72 462.9,181.72 462.9,174.83 463.3,174.83 463.3,167.93 463.7,167.93 463.7,174.83 464.1,174.83 464.1,174.83 464.5,174.83 464.5,174.83 464.9,174.83 464.9,167.93 465.3,167.93 465.3,167.93 465.7,167.93 465.7,181.72 466.1,181.72 466.1,167.93 466.5,167.93 466.5,174.83 466.9,174.83 466.9,181.72 467.3,181.72 467.3,174.83 467.7,174.83 467.7,174.83 468.1,174.83 468.1,174.83 468.5,174.83 468.5,174.83 468.9,174.83 468.9,188.62 469.3,188.62 469.3,167.93 469.7,167.93 469.7,174.83 470.1,174.83 470.1,161.04 470.5,161.04 470.5,181.72 470.9,181.72 470.9,167.93 471.3,167.93 471.3,174.83 471.7,174.83 471.7,161.04 472.1,161.04 472.1,167.93 472.5,167.93 472.5,167.93 472.9,167.93 472.9,181.72 473.3,181.72 473.3,167.93 473.7,167.93 473.7,174.83 474.1,174.83 474.1,167.93 474.5,167.93 474.5,161.04 474.9,161.04 474.9,188.62 475.3,188.62 475.3,181.72 475.7,181.72 475.7,167.93 476.1,167.93 476.1,161.04 476.5,161.04 476.5,161.04 476.9,161.04 476.9,174.83 477.3,174.83 477.3,167.93 477.7,167.93 477.7,181.72 478.1,181.72 478.1,181.72 478.5,181.72 478.5,167.93 478.9,167.93 478.9,174.83 479.3,174.83 479.3,174.83 479.7,174.83 479.7,181.72 480.1,181.72 480.1,174.83 480.5,174.83 480.5,167.93 480.9,167.93 480.9,181.72 481.3,181.72 481.3,174.83 481.7,174.83 481.7,167.93 482.1,167.93 482.1,161.04 482.5,161.04 482.5,181.72 482.9,181.72 482.9,167.93 483.3,167.93 483.3,174.83 483.7,174.83 483.7,174.83 484.1,174.83 484.1,174.83 484.5,174.83 484.5,174.83 484.9,174.83 484.9,167.93 485.3,167.93 485.3,174.83 485.7,174.83 485.7,174.83 486.1,174.83 486.1,167.93 486.5,167.93 486.5,167.93 486.9,167.93 486.9,174.83 487.3,174.83 487.3,174.83 487.7,174.83 487.7,161.04 488.1,161.04 488.1,181.72 488.5,181.72 488.5,181.72 488.9,181.72 488.9,161.04 489.3,161.04 489.3,181.72 489.7,181.72 489.7,174.83 490.1,174.83 490.1,174.83 490.5,174.83 490.5,181.72 490.9,181.72 490.9,181.72 491.3,181.72 491.3,167.93 491.7,167.93 491.7,181.72 492.1,181.72 492.1,188.62 492.5,188.62 492.5,181.72 492.9,181.72 492.9,167.93 493.3,167.93 493.3,181.72 493.7,181.72 493.7,181.72 494.1,181.72 494.1,167.93 494.5,167.93 494.5,167.93 494.9,167.93 494.9,174.83 495.3,174.83 495.3,174.83 495.7,174.83 495.7,181.72 496.1,181.72 496.1,181.72 496.5,181.72 496.5,174.83 496.9,174.83 496.9,188.62 497.3,188.62 497.3,181.72 497.7,181.72 497.7,188.62 498.1,188.62 498.1,188.62 498.5,188.62 498.5,167.93 498.9,167.93 498.9,167.93 499.3,167.93 499.3,195.51 499.7,195.51 499.7,181.72 500.1,181.72 500.1,174.83 500.5,174.83 500.5,167.93 500.9,167.93 500.9,174.83 501.3,174.83 501.3,174.83 501.7,174.83 501.7,188.62 502.1,188.62 502.1,167.93 502.5,167.93 502.5,167.93 502.9,167.93 502.9,181.72 503.3,181.72 503.3,188.62 503.7,188.62 503.7,188.62 504.1,188.62 504.1,174.83 504.5,174.83 504.5,174.83 504.9,174.83 504.9,188.62 505.3,188.62 505.3,174.83 505.7,174.83 505.7,167.93 506.1,167.93 506.1,188.62 506.5,188.62 506.5,188.62 506.9,188.62 506.9,188.62 507.3,188.62 507.3,181.72 507.7,181.72 507.7,181.72 508.1,181.72 508.1,167.93 508.5,167.93 508.5,188.62 508.9,188.62 508.9,188.62 509.3,188.62 509.3,167.93 509.7,167.93 509.7,188.62 510.1,188.62 510.1,181.72 510.5,181.72 510.5,181.72 510.9,181.72 510.9,188.62 511.3,188.62 511.3,181.72 511.7,181.72 511.7,174.83 512.1,174.83 512.1,174.83 512.5,174.83 512.5,174.83 512.9,174.83 512.9,174.83 513.3,174.83 513.3,181.72 513.7,181.72 513.7,188.62 514.1,188.62 514.1,174.83 514.5,174.83 514.5,174.83 514.9,174.83 514.9,188.62 515.3,188.62 515.3,181.72 515.7,181.72 515.7,188.62 516.1,188.62 516.1,167.93 516.5,167.93 516.5,181.72 516.9,181.72 516.9,188.62 517.3,188.62 517.3,167.93 517.7,167.93 517.7,167.93 518.1,167.93 518.1,167.93 518.5,167.93 518.5,174.83 518.9,174.83 518.9,181.72 519.3,181.72 519.3,181.72 519.7,181.72 519.7,174.83 520.1,174.83 520.1,167.93 520.5,167.93 520.5,167.93 520.9,167.93 520.9,181.72 521.3,181.72 521.3,167.93 521.7,167.93 521.7,188.62 522.1,188.62 522.1,195.51 522.5,195.51 522.5,167.93 522.9,167.93 522.9,181.72 523.3,181.72 523.3,174.83 523.7,174.83 523.7,167.93 524.1,167.93 524.1,174.83 524.5,174.83 524.5,174.83 524.9,174.83 524.9,174.83 525.3,174.83 525.3,167.93 525.7,167.93 525.7,167.93 526.1,167.93 526.1,188.62 526.5,188.62 526.5,188.62 526.9,188.62 526.9,181.72 527.3,181.72 527.3,188.62 527.7,188.62 527.7,167.93 528.1,167.93 528.1,167.93 528.5,167.93 528.5,188.62 528.9,188.62 528.9,195.51 529.3,195.51 529.3,181.72 529.7,181.72 529.7,167.93 530.1,167.93 530.1,167.93 530.5,167.93 530.5,181.72 530.9,181.72 530.9,174.83 531.3,174.83 531.3,167.93 531.7,167.93 531.7,167.93 532.1,167.93 532.1,188.62 532.5,188.62 532.5,174.83 532.9,174.83 532.9,174.83 533.3,174.83 533.3,167.93 533.7,167.93 533.7,181.72 534.1,181.72 534.1,188.62 534.5,188.62 534.5,181.72 534.9,181.72 534.9,181.72 535.3,181.72 535.3,181.72 535.7,181.72 535.7,161.04 536.1,161.04 536.1,174.83 536.5,174.83 536.5,174.83 536.9,174.83 536.9,181.72 537.3,181.72 537.3,188.62 537.7,188.62 537.7,188.62 538.1,188.62 538.1,181.72 538.5,181.72 538.5,167.93 538.9,167.93 538.9,174.83 539.3,174.83 539.3,167.93 539.7,167.93 539.7,174.83 540.1,174.83 540.1,167.93 540.5,167.93 540.5,161.04 540.9,161.04 540.9,167.93 541.3,167.93 541.3,167.93 541.7,167.93 541.7,161.04 542.1,161.04 542.1,167.93 542.5,167.93 542.5,167.93 542.9,167.93 542.9,188.62 543.3,188.62 543.3,188.62 543.7,188.62 543.7,161.04 544.1,161.04 544.1,181.72 544.5,181.72 544.5,181.72 544.9,181.72 544.9,195.51 545.3,195.51 545.3,167.93 545.7,167.93 545.7,188.62 546.1,188.62 546.1,167.93 546.5,167.93 546.5,181.72 546.9,181.72 546.9,167.93 547.3,167.93 547.3,161.04 547.7,161.04 547.7,167.93 548.1,167.93 548.1,174.83 548.5,174.83 548.5,161.04 548.9,161.04 548.9,161.04 549.3,161.04 549.3,167.93 549.7,167.93 549.7,188.62 550.1,188.62 550.1,188.62 550.5,188.62 550.5,161.04 550.9,161.04 550.9,167.93 551.3,167.93 551.3,188.62 551.7,188.62 551.7,174.83 552.1,174.83 552.1,174.83 552.5,174.83 552.5,181.72 552.9,181.72 552.9,167.93 553.3,167.93 553.3,181.72 553.7,181.72 553.7,188.62 554.1,188.62 554.1,181.72 554.5,181.72 554.5,181.72 554.9,181.72 554.9,161.04 555.3,161.04 555.3,167.93 555.7,167.93 555.7,188.62 556.1,188.62 556.1,174.83 556.5,174.83 556.5,188.62 556.9,188.62 556.9,167.93 557.3,167.93 557.3,161.04 557.7,161.04 557.7,188.62 558.1,188.62 558.1,174.83 558.5,174.83 558.5,181.72 558.9,181.72 558.9,181.72 559.3,181.72 559.3,167.93 559.7,167.93 559.7,167.93 560.1,167.93 560.1,181.72 560.5,181.72 560.5,174.83 560.9,174.83 560.9,181.72 561.3,181.72 561.3,188.62 561.7,188.62 561.7,167.93 562.1,167.93 562.1,188.62 562.5,188.62 562.5,167.93 562.9,167.93 562.9,167.93 563.3,167.93 563.3,188.62 563.7,188.62 563.7,174.83 564.1,174.83 564.1,181.72 564.5,181.72 564.5,167.93 564.9,167.93 564.9,181.72 565.3,181.72 565.3,167.93 565.7,167.93 565.7,167.93 566.1,167.93 566.1,174.83 566.5,174.83 566.5,181.72 566.9,181.72 566.9,161.04 567.3,161.04 567.3,181.72 567.7,181.72 567.7,167.93 568.1,167.93 568.1,174.83 568.5,174.83 568.5,167.93 568.9,167.93 568.9,167.93 569.3,167.93 569.3,181.72 569.7,181.72 569.7,167.93 570.1,167.93 570.1,174.83 570.5,174.83 570.5,174.83 570.9,174.83 570.9,161.04 571.3,161.04 571.3,161.04 571.7,161.04 571.7,174.83 572.1,174.83 572.1,188.62 572.5,188.62 572.5,161.04 572.9,161.04 572.9,174.83 573.3,174.83 573.3,174.83 573.7,174.83 573.7,167.93 574.1,167.93 574.1,181.72 574.5,181.72 574.5,161.04 574.9,161.04 574.9,167.93 575.3,167.93 575.3,167.93 575.7,167.93 575.7,181.72 576.1,181.72 576.1,161.04 576.5,161.04 576.5,161.04 576.9,161.04 576.9,167.93 577.3,167.93 577.3,161.04 577.7,161.04 577.7,188.62 578.1,188.62 578.1,167.93 578.5,167.93 578.5,161.04 578.9,161.04 578.9,174.83 579.3,174.83 579.3,188.62 579.7,188.62 579.7,174.83 580.1,174.83 580.1,181.72 580.5,181.72 580.5,188.62 580.9,188.62 580.9,161.04 581.3,161.04 581.3,161.04 581.7,161.04 581.7,167.93 582.1,167.93 582.1,167.93 582.5,167.93 582.5,167.93 582.9,167.93 582.9,174.83 583.3,174.83 583.3,188.62 583.7,188.62 583.7,181.72 584.1,181.72 584.1,174.83 584.5,174.83 584.5,174.83 584.9,174.83 584.9,181.72 585.3,181.72 585.3,188.62 585.7,188.62 585.7,181.72 586.1,181.72 586.1,188.62 586.5,188.62 586.5,161.04 586.9,161.04 586.9,188.62 587.3,188.62 587.3,181.72 587.7,181.72 587.7,174.83 588.1,174.83 588.1,181.72 588.5,181.72 588.5,174.83 588.9,174.83 588.9,174.83 589.3,174.83 589.3,188.62 589.7,188.62 589.7,167.93 590.1,167.93 590.1,174.83 590.5,174.83 590.5,188.62 590.9,188.62 590.9,167.93 591.3,167.93 591.3,188.62 591.7,188.62 591.7,174.83 592.1,174.83 592.1,181.72 592.5,181.72 592.5,188.62 592.9,188.62 592.9,181.72 593.3,181.72 593.3,181.72 593.7,181.72 593.7,181.72 594.1,181.72 594.1,181.72 594.5,181.72 594.5,181.72 594.9,181.72 594.9,181.72 595.3,181.72 595.3,174.83 595.7,174.83 595.7,188.62 596.1,188.62 596.1,195.51 596.5,195.51 596.5,174.83 596.9,174.83 596.9,195.51 597.3,195.51 597.3,181.72 597.7,181.72 597.7,181.72 598.1,181.72 598.1,174.83 598.5,174.83 598.5,195.51 598.9,195.51 598.9,174.83 599.3,174.83 599.3,195.51 599.7,195.51 599.7,195.51 600.1,195.51 600.1,181.72 600.5,181.72 600.5,195.51 600.9,195.51 600.9,181.72 601.3,181.72 601.3,181.72 601.7,181.72 601.7,195.51 602.1,195.51 602.1,167.93 602.5,167.93 602.5,188.62 602.9,188.62 602.9,174.83 603.3,174.83 603.3,195.51 603.7,195.51 603.7,195.51 604.1,195.51 604.1,181.72 604.5,181.72 604.5,195.51 604.9,195.51 604.9,188.62 605.3,188.62 605.3,181.72 605.7,181.72 605.7,188.62 606.1,188.62 606.1,195.51 606.5,195.51 606.5,195.51 606.9,195.51 606.9,181.72 607.3,181.72 607.3,181.72 607.7,181.72 607.7,181.72 608.1,181.72 608.1,195.51 608.5,195.51 608.5,195.51 608.9,195.51 608.9,195.51 609.3,195.51 609.3,195.51 609.7,195.51 609.7,195.51 610.1,195.51 610.1,174.83 610.5,174.83 610.5,188.62 610.9,188.62 610.9,195.51 611.3,195.51 611.3,174.83 611.7,174.83 611.7,188.62 612.1,188.62 612.1,195.51 612.5,195.51 612.5,174.83 612.9,174.83 612.9,174.83 613.3,174.83 613.3,195.51 613.7,195.51 613.7,174.83 614.1,174.83 614.1,188.62 614.5,188.62 614.5,181.72 614.9,181.72 614.9,188.62 615.3,188.62 615.3,188.62 615.7,188.62 615.7,188.62 616.1,188.62 616.1,195.51 616.5,195.51 616.5,181.72 616.9,181.72 616.9,188.62 617.3,188.62 617.3,188.62 617.7,188.62 617.7,174.83 618.1,174.83 618.1,181.72 618.5,181.72 618.5,174.83 618.9,174.83 618.9,188.62 619.3,188.62 619.3,188.62 619.7,188.62 619.7,202.41 620.1,202.41 620.1,202.41 620.5,202.41 620.5,195.51 620.9,195.51 620.9,188.62 621.3,188.62 621.3,188.62 621.7,188.62 621.7,195.51 622.1,195.51 622.1,181.72 622.5,181.72 622.5,188.62 622.9,188.62 622.9,188.62 623.3,188.62 623.3,174.83 623.7,174.83 623.7,181.72 624.1,181.72 624.1,181.72 624.5,181.72 624.5,174.83 624.9,174.83 624.9,181.72 625.3,181.72 625.3,188.62 625.7,188.62 625.7,174.83 626.1,174.83 626.1,195.51 626.5,195.51 626.5,174.83 626.9,174.83 626.9,188.62 627.3,188.62 627.3,188.62 627.7,188.62 627.7,188.62 628.1,188.62 628.1,188.62 628.5,188.62 628.5,181.72 628.9,181.72 628.9,181.72 629.3,181.72 629.3,181.72 629.7,181.72 629.7,195.51 630.1,195.51 630.1,188.62 630.5,188.62 630.5,195.51 630.9,195.51 630.9,181.72 631.3,181.72 631.3,195.51 631.7,195.51 631.7,188.62 632.1,188.62 632.1,195.51 632.5,195.51 632.5,181.72 632.9,181.72 632.9,174.83 633.3,174.83 633.3,188.62 633.7,188.62 633.7,174.83 634.1,174.83 634.1,195.51 634.5,195.51 634.5,181.72 634.9,181.72 634.9,195.51 635.3,195.51 635.3,188.62 635.7,188.62 635.7,181.72 636.1,181.72 636.1,188.62 636.5,188.62 636.5,195.51 636.9,195.51 636.9,181.72 637.3,181.72 637.3,181.72 637.7,181.72 637.7,174.83 638.1,174.83 638.1,188.62 638.5,188.62 638.5,195.51 638.9,195.51 638.9,195.51 639.3,195.51 639.3,195.51 639.7,195.51 639.7,195.51 640.1,195.51 640.1,195.51 640.5,195.51 640.5,181.72 640.9,181.72 640.9,195.51 641.3,195.51 641.3,181.72 641.7,181.72 641.7,195.51 642.1,195.51 642.1,195.51 642.5,195.51 642.5,188.62 642.9,188.62 642.9,181.72 643.3,181.72 643.3,188.62 643.7,188.62 643.7,202.41 644.1,202.41 644.1,181.72 644.5,181.72 644.5,174.83 644.9,174.83 644.9,195.51 645.3,195.51 645.3,202.41 645.7,202.41 645.7,181.72 646.1,181.72 646.1,181.72 646.5,181.72 646.5,188.62 646.9,188.62 646.9,174.83 647.3,174.83 647.3,188.62 647.7,188.62 647.7,174.83 648.1,174.83 648.1,181.72 648.5,181.72 648.5,188.62 648.9,188.62 648.9,188.62 649.3,188.62 649.3,195.51 649.7,195.51 649.7,174.83 650.1,174.83 650.1,174.83 650.5,174.83 650.5,195.51 650.9,195.51 650.9,195.51 651.3,195.51 651.3,195.51 651.7,195.51 651.7,188.62 652.1,188.62 652.1,195.51 652.5,195.51 652.5,174.83 652.9,174.83 652.9,174.83 653.3,174.83 653.3,174.83 653.7,174.83 653.7,181.72 654.1,181.72 654.1,174.83 654.5,174.83 654.5,181.72 654.9,181.72 654.9,188.62 655.3,188.62 655.3,181.72 655.7,181.72 655.7,188.62 656.1,188.62 656.1,188.62 656.5,188.62 656.5,174.83 656.9,174.83 656.9,195.51 657.3,195.51 657.3,195.51 657.7,195.51 657.7,174.83 658.1,174.83 658.1,188.62 658.5,188.62 658.5,195.51 658.9,195.51 658.9,188.62 659.3,188.62 659.3,195.51 659.7,195.51 659.7,174.83 660.1,174.83 660.1,188.62 660.5,188.62 660.5,174.83 660.9,174.83 660.9,188.62 661.3,188.62 661.3,174.83 661.7,174.83 661.7,174.83 662.1,174.83 662.1,181.72 662.5,181.72 662.5,174.83 662.9,174.83 662.9,188.62 663.3,188.62 663.3,195.51 663.7,195.51 663.7,181.72 664.1,181.72 664.1,195.51 664.5,195.51 664.5,181.72 664.9,181.72 664.9,181.72 665.3,181.72 665.3,174.83 665.7,174.83 665.7,167.93 666.1,167.93 666.1,188.62 666.5,188.62 666.5,174.83 666.9,174.83 666.9,181.72 667.3,181.72 667.3,174.83 667.7,174.83 667.7,181.72 668.1,181.72 668.1,167.93 668.5,167.93 668.5,181.72 668.9,181.72 668.9,195.51 669.3,195.51 669.3,167.93 669.7,167.93 669.7,174.83 670.1,174.83 670.1,174.83 670.5,174.83 670.5,188.62 670.9,188.62 670.9,195.51 671.3,195.51 671.3,174.83 671.7,174.83 671.7,174.83 672.1,174.83 672.1,174.83 672.5,174.83 672.5,174.83 672.9,174.83 672.9,174.83 673.3,174.83 673.3,188.62 673.7,188.62 673.7,181.72 674.1,181.72 674.1,181.72 674.5,181.72 674.5,181.72 674.9,181.72 674.9,174.83 675.3,174.83 675.3,174.83 675.7,174.83 675.7,174.83 676.1,174.83 676.1,174.83 676.5,174.83 676.5,167.93 676.9,167.93 676.9,188.62 677.3,188.62 677.3,174.83 677.7,174.83 677.7,181.72 678.1,181.72 678.1,188.62 678.5,188.62 678.5,188.62 678.9,188.62 678.9,167.93 679.3,167.93 679.3,167.93 679.7,167.93 679.7,188.62 680.1,188.62 680.1,181.72 680.5,181.72 680.5,174.83 680.9,174.83 680.9,161.04 681.3,161.04 681.3,188.62 681.7,188.62 681.7,188.62 682.1,188.62 682.1,161.04 682.5,161.04 682.5,161.04 682.9,161.04 682.9,167.93 683.3,167.93 683.3,181.72 683.7,181.72 683.7,174.83 684.1,174.83 684.1,161.04 684.5,161.04 684.5,174.83 684.9,174.83 684.9,174.83 685.3,174.83 685.3,181.72 685.7,181.72 685.7,161.04 686.1,161.04 686.1,174.83 686.5,174.83 686.5,174.83 686.9,174.83 686.9,167.93 687.3,167.93 687.3,161.04 687.7,161.04 687.7,161.04 688.1,161.04 688.1,174.83 688.5,174.83 688.5,167.93 688.9,167.93 688.9,174.83 689.3,174.83 689.3,161.04 689.7,161.04 689.7,161.04 690.1,161.04 690.1,167.93 690.5,167.93 690.5,167.93 690.9,167.93 690.9,167.93 691.3,167.93 691.3,167.93 691.7,167.93 691.7,181.72 692.1,181.72 692.1,167.93 692.5,167.93 692.5,174.83 692.9,174.83 692.9,167.93 693.3,167.93 693.3,188.62 693.7,188.62 693.7,174.83 694.1,174.83 694.1,167.93 694.5,167.93 694.5,167.93 694.9,167.93 694.9,174.83 695.3,174.83 695.3,181.72 695.7,181.72 695.7,174.83 696.1,174.83 696.1,167.93 696.5,167.93 696.5,174.83 696.9,174.83 696.9,181.72 697.3,181.72 697.3,188.62 697.7,188.62 697.7,174.83 698.1,174.83 698.1,188.62 698.5,188.62 698.5,167.93 698.9,167.93 698.9,181.72 699.3,181.72 699.3,181.72 699.7,181.72 699.7,188.62 700.1,188.62 700.1,188.62 700.5,188.62 700.5,167.93 700.9,167.93 700.9,161.04 701.3,161.04 701.3,167.93 701.7,167.93 701.7,174.83 702.1,174.83 702.1,167.93 702.5,167.93 702.5,181.72 702.9,181.72 702.9,188.62 703.3,188.62 703.3,188.62 703.7,188.62 703.7,181.72 704.1,181.72 704.1,167.93 704.5,167.93 704.5,174.83 704.9,174.83 704.9,174.83 705.3,174.83 705.3,174.83 705.7,174.83 705.7,174.83 706.1,174.83 706.1,167.93 706.5,167.93 706.5,181.72 706.9,181.72 706.9,174.83 707.3,174.83 707.3,188.62 707.7,188.62 707.7,181.72 708.1,181.72 708.1,167.93 708.5,167.93 708.5,188.62 708.9,188.62 708.9,181.72 709.3,181.72 709.3,167.93 709.7,167.93 709.7,188.62 710.1,188.62 710.1,188.62 710.5,188.62 710.5,167.93 710.9,167.93 710.9,188.62 711.3,188.62 711.3,181.72 711.7,181.72 711.7,161.04 712.1,161.04 712.1,181.72 712.5,181.72 712.5,167.93 712.9,167.93 712.9,167.93 713.3,167.93 713.3,188.62 713.7,188.62 713.7,188.62 714.1,188.62 714.1,167.93 714.5,167.93 714.5,181.72 714.9,181.72 714.9,181.72 715.3,181.72 715.3,167.93 715.7,167.93 715.7,188.62 716.1,188.62 716.1,167.93 716.5,167.93 716.5,181.72 716.9,181.72 716.9,174.83 717.3,174.83 717.3,188.62 717.7,188.62 717.7,174.83 718.1,174.83 718.1,167.93 718.5,167.93 718.5,188.62 718.9,188.62 718.9,188.62 719.3,188.62 719.3,188.62 719.7,188.62 719.7,188.62 720.1,188.62 720.1,181.72 720.5,181.72 720.5,167.93 720.9,167.93 720.9,188.62 721.3,188.62 721.3,181.72 721.7,181.72 721.7,181.72 722.1,181.72 722.1,181.72 722.5,181.72 722.5,181.72 722.9,181.72 722.9,174.83 723.3,174.83 723.3,181.72 723.7,181.72 723.7,161.04 724.1,161.04 724.1,174.83 724.5,174.83 724.5,174.83 724.9,174.83 724.9,167.93 725.3,167.93 725.3,167.93 725.7,167.93 725.7,181.72 726.1,181.72 726.1,167.93 726.5,167.93 726.5,174.83 726.9,174.83 726.9,174.83 727.3,174.83 727.3,181.72 727.7,181.72 727.7,174.83 728.1,174.83 728.1,174.83 728.5,174.83 728.5,181.72 728.9,181.72 728.9,174.83 729.3,174.83 729.3,161.04 729.7,161.04 729.7,174.83 730.1,174.83 730.1,181.72 730.5,181.72 730.5,174.83 730.9,174.83 730.9,174.83 731.3,174.83 731.3,181.72 731.7,181.72 731.7,174.83 732.1,174.83 732.1,174.83 732.5,174.83 732.5,167.93 732.9,167.93 732.9,174.83 733.3,174.83 733.3,167.93 733.7,167.93 733.7,167.93 734.1,167.93 734.1,181.72 734.5,181.72 734.5,174.83 734.9,174.83 734.9,174.83 735.3,174.83 735.3,181.72 735.7,181.72 735.7,181.72 736.1,181.72 736.1,167.93 736.5,167.93 736.5,181.72 736.9,181.72 736.9,161.04 737.3,161.04 737.3,174.83 737.7,174.83 737.7,188.62 738.1,188.62 738.1,161.04 738.5,161.04 738.5,167.93 738.9,167.93 738.9,174.83 739.3,174.83 739.3,167.93 739.7,167.93 739.7,167.93 740.1,167.93 740.1,174.83 740.5,174.83 740.5,167.93 740.9,167.93 740.9,167.93 741.3,167.93 741.3,181.72 741.7,181.72 741.7,167.93 742.1,167.93 742.1,161.04 742.5,161.04 742.5,167.93 742.9,167.93 742.9,161.04 743.3,161.04 743.3,161.04 743.7,161.04 743.7,167.93 744.1,167.93 744.1,174.83 744.5,174.83 744.5,167.93 744.9,167.93 744.9,167.93 745.3,167.93 745.3,167.93 745.7,167.93 745.7,174.83 746.1,174.83 746.1,181.72 746.5,181.72 746.5,174.83 746.9,174.83 746.9,161.04 747.3,161.04 747.3,174.83 747.7,174.83 747.7,174.83 748.1,174.83 748.1,161.04 748.5,161.04 748.5,181.72 748.9,181.72 748.9,174.83 749.3,174.83 749.3,174.83 749.7,174.83 749.7,181.72 750.1,181.72 750.1,167.93 750.5,167.93 750.5,174.83 750.9,174.83 750.9,174.83 751.3,174.83 751.3,174.83 751.7,174.83 751.7,181.72 752.1,181.72 752.1,161.04 752.5,161.04 752.5,181.72 752.9,181.72 752.9,181.72 753.3,181.72 753.3,167.93 753.7,167.93 753.7,181.72 754.1,181.72 754.1,167.93 754.5,167.93 754.5,174.83 754.9,174.83 754.9,167.93 755.3,167.93 755.3,174.83 755.7,174.83 755.7,167.93 756.1,167.93 756.1,181.72 756.5,181.72 756.5,181.72 756.9,181.72 756.9,167.93 757.3,167.93 757.3,161.04 757.7,161.04 757.7,161.04 758.1,161.04 758.1,161.04 758.5,161.04 758.5,167.93 758.9,167.93 758.9,167.93 759.3,167.93 759.3,167.93 759.7,167.93 759.7,161.04 760.1,161.04 760.1,161.04 760.5,161.04 760.5,167.93 760.9,167.93 760.9,167.93 761.3,167.93 761.3,167.93 761.7,167.93 761.7,174.83 762.1,174.83 762.1,174.83 762.5,174.83 762.5,161.04 762.9,161.04 762.9,181.72 763.3,181.72 763.3,161.04 763.7,161.04 763.7,161.04 764.1,161.04 764.1,167.93 764.5,167.93 764.5,161.04 764.9,161.04 764.9,161.04 765.3,161.04 765.3,161.04 765.7,161.04 765.7,154.14 766.1,154.14 766.1,161.04 766.5,161.04 766.5,161.04 766.9,161.04 766.9,167.93 767.3,167.93 767.3,154.14 767.7,154.14 767.7,161.04 768.1,161.04 768.1,154.14 768.5,154.14 768.5,161.04 768.9,161.04 768.9,174.83 769.3,174.83 769.3,154.14 769.7,154.14 769.7,154.14 770.1,154.14 770.1,154.14 770.5,154.14 770.5,161.04 770.9,161.04 770.9,174.83 771.3,174.83 771.3,154.14 771.7,154.14 771.7,167.93 772.1,167.93 772.1,174.83 772.5,174.83 772.5,167.93 772.9,167.93 772.9,167.93 773.3,167.93 773.3,154.14 773.7,154.14 773.7,167.93 774.1,167.93 774.1,147.25 774.5,147.25 774.5,167.93 774.9,167.93 774.9,154.14 775.3,154.14 775.3,167.93 775.7,167.93 775.7,161.04 776.1,161.04 776.1,167.93 776.5,167.93 776.5,147.25 776.9,147.25 776.9,167.93 777.3,167.93 777.3,161.04 777.7,161.04 777.7,154.14 778.1,154.14 778.1,161.04 778.5,161.04 778.5,167.93 778.9,167.93 778.9,161.04 779.3,161.04 779.3,147.25 779.7,147.25 779.7,167.93 780.1,167.93 780.1,167.93 780.5,167.93 780.5,147.25 780.9,147.25 780.9,147.25 781.3,147.25 781.3,154.14 781.7,154.14 781.7,161.04 782.1,161.04 782.1,147.25 782.5,147.25 782.5,161.04 782.9,161.04 782.9,167.93 783.3,167.93 783.3,161.04 783.7,161.04 783.7,154.14 784.1,154.14 784.1,154.14 784.5,154.14 784.5,147.25 784.9,147.25 784.9,167.93 785.3,167.93 785.3,147.25 785.7,147.25 785.7,154.14 786.1,154.14 786.1,154.14 786.5,154.14 786.5,161.04 786.9,161.04 786.9,161.04 787.3,161.04 787.3,161.04 787.7,161.04 787.7,161.04 788.1,161.04 788.1,161.04 788.5,161.04 788.5,154.14 788.9,154.14 788.9,147.25 789.3,147.25 789.3,167.93 789.7,167.93 789.7,161.04 790.1,161.04 790.1,154.14 790.5,154.14 790.5,147.25 790.9,147.25 790.9,154.14 791.3,154.14 791.3,154.14 791.7,154.14 791.7,154.14 792.1,154.14 792.1,161.04 792.5,161.04 792.5,147.25 792.9,147.25 792.9,147.25 793.3,147.25 793.3,154.14 793.7,154.14 793.7,167.93 794.1,167.93 794.1,161.04 794.5,161.04 794.5,161.04 794.9,161.04 794.9,161.04 795.3,161.04 795.3,161.04 795.7,161.04 795.7,147.25 796.1,147.25 796.1,161.04 796.5,161.04 796.5,161.04 796.9,161.04 796.9,161.04 797.3,161.04 797.3,161.04 797.7,161.04 797.7,154.14 798.1,154.14 798.1,154.14 798.5,154.14 798.5,140.35 798.9,140.35 798.9,140.35 799.3,140.35 799.3,140.35 799.7,140.35 799.7,140.35 800.1,140.35 800.1,154.14 800.5,154.14 800.5,161.04 800.9,161.04 800.9,154.14 801.3,154.14 801.3,154.14 801.7,154.14 801.7,140.35 802.1,140.35 802.1,154.14 802.5,154.14 802.5,140.35 802.9,140.35 802.9,147.25 803.3,147.25 803.3,147.25 803.7,147.25 803.7,140.35 804.1,140.35 804.1,147.25 804.5,147.25 804.5,154.14 804.9,154.14 804.9,147.25 805.3,147.25 805.3,126.56 805.7,126.56 805.7,140.35 806.1,140.35 806.1,147.25 806.5,147.25 806.5,147.25 806.9,147.25 806.9,154.14 807.3,154.14 807.3,147.25 807.7,147.25 807.7,140.35 808.1,140.35 808.1,140.35 808.5,140.35 808.5,133.46 808.9,133.46 808.9,126.56 809.3,126.56 809.3,140.35 809.7,140.35 809.7,140.35 810.1,140.35 810.1,133.46 810.5,133.46 810.5,147.25 810.9,147.25 810.9,133.46 811.3,133.46 811.3,126.56 811.7,126.56 811.7,126.56 812.1,126.56 812.1,147.25 812.5,147.25 812.5,133.46 812.9,133.46 812.9,126.56 813.3,126.56 813.3,140.35 813.7,140.35 813.7,126.56 814.1,126.56 814.1,147.25 814.5,147.25 814.5,133.46 814.9,133.46 814.9,133.46 815.3,133.46 815.3,126.56 815.7,126.56 815.7,140.35 816.1,140.35 816.1,133.46 816.5,133.46 816.5,126.56 816.9,126.56 816.9,147.25 817.3,147.25 817.3,140.35 817.7,140.35 817.7,133.46 818.1,133.46 818.1,126.56 818.5,126.56 818.5,133.46 818.9,133.46 818.9,133.46 819.3,133.46 819.3,126.56 819.7,126.56 819.7,126.56 820.1,126.56 820.1,119.67 820.5,119.67 820.5,133.46 820.9,133.46 820.9,133.46 821.3,133.46 821.3,154.14 821.7,154.14 821.7,140.35 822.1,140.35 822.1,140.35 822.5,140.35 822.5,140.35 822.9,140.35 822.9,140.35 823.3,140.35 823.3,140.35 823.7,140.35 823.7,126.56 824.1,126.56 824.1,119.67 824.5,119.67 824.5,140.35 824.9,140.35 824.9,133.46 825.3,133.46 825.3,133.46 825.7,133.46 825.7,140.35 826.1,140.35 826.1,133.46 826.5,133.46 826.5,126.56 826.9,126.56 826.9,133.46 827.3,133.46 827.3,119.67 827.7,119.67 827.7,126.56 828.1,126.56 828.1,119.67 828.5,119.67 828.5,133.46 828.9,133.46 828.9,133.46 829.3,133.46 829.3,119.67 829.7,119.67 829.7,126.56 830.1,126.56 830.1,119.67 830.5,119.67 830.5,133.46 830.9,133.46 830.9,133.46 831.3,133.46 831.3,126.56 831.7,126.56 831.7,133.46 832.1,133.46 832.1,140.35 832.5,140.35 832.5,126.56 832.9,126.56 832.9,119.67 833.3,119.67 833.3,126.56 833.7,126.56 833.7,119.67 834.1,119.67 834.1,126.56 834.5,126.56 834.5,140.35 834.9,140.35 834.9,126.56 835.3,126.56 835.3,119.67 835.7,119.67 835.7,133.46 836.1,133.46 836.1,119.67 836.5,119.67 836.5,133.46 836.9,133.46 836.9,112.77 837.3,112.77 837.3,119.67 837.7,119.67 837.7,133.46 838.1,133.46 838.1,133.46 838.5,133.46 838.5,133.46 838.9,133.46 838.9,126.56 839.3,126.56 839.3,119.67 839.7,119.67 839.7,119.67 840.1,119.67 840.1,112.77 840.5,112.77 840.5,119.67 840.9,119.67 840.9,119.67 841.3,119.67 841.3,119.67 841.7,119.67 841.7,126.56 842.1,126.56 842.1,126.56 842.5,126.56 842.5,119.67 842.9,119.67 842.9,112.77 843.3,112.77 843.3,126.56 843.7,126.56 843.7,112.77 844.1,112.77 844.1,126.56 844.5,126.56 844.5,126.56 844.9,126.56 844.9,112.77 845.3,112.77 845.3,105.88 845.7,105.88 845.7,105.88 846.1,105.88 846.1,105.88 846.5,105.88 846.5,119.67 846.9,119.67 846.9,98.98 847.3,98.98 847.3,112.77 847.7,112.77 847.7,98.98 848.1,98.98 848.1,98.98 848.5,98.98 848.5,119.67 848.9,119.67 848.9,105.88 849.3,105.88 849.3,119.67 849.7,119.67 849.7,98.98 850.1,98.98 850.1,112.77 850.5,112.77 850.5,119.67 850.9,119.67 850.9,105.88 851.3,105.88 851.3,112.77 851.7,112.77 851.7,98.98 852.1,98.98 852.1,105.88 852.5,105.88 852.5,112.77 852.9,112.77 852.9,119.67 853.3,119.67 853.3,92.09 853.7,92.09 853.7,98.98 854.1,98.98 854.1,105.88 854.5,105.88 854.5,105.88 854.9,105.88 854.9,92.09 855.3,92.09 855.3,119.67 855.7,119.67 855.7,92.09 856.1,92.09 856.1,98.98 856.5,98.98 856.5,112.77 856.9,112.77 856.9,92.09 857.3,92.09 857.3,112.77 857.7,112.77 857.7,92.09 858.1,92.09 858.1,105.88 858.5,105.88 858.5,92.09 858.9,92.09 858.9,85.19 859.3,85.19 859.3,105.88 859.7,105.88 859.7,98.98 860.1,98.98 860.1,78.3 860.5,78.3 860.5,92.09 860.9,92.09 860.9,98.98 861.3,98.98 861.3,105.88 861.7,105.88 861.7,98.98 862.1,98.98 862.1,98.98 862.5,98.98 862.5,78.3 862.9,78.3 862.9,71.4 863.3,71.4 863.3,85.19 863.7,85.19 863.7,92.09 864.1,92.09 864.1,78.3 864.5,78.3 864.5,71.4 864.9,71.4 864.9,71.4 865.3,71.4 865.3,64.51 865.7,64.51 865.7,64.51 866.1,64.51 866.1,50.72 866.5,50.72 866.5,64.51 866.9,64.51 866.9,85.19 867.3,85.19 867.3,50.72 867.7,50.72 867.7,50.72 868.1,50.72 868.1,57.61 868.5,57.61 868.5,64.51 868.9,64.51 868.9,50.72 869.3,50.72 869.3,85.19 869.7,85.19 869.7,57.61 870.1,57.61 870.1,64.51 870.5,64.51 870.5,57.61 870.9,57.61 870.9,85.19 871.3,85.19 871.3,50.72 871.7,50.72 871.7,92.09 872.1,92.09 872.1,85.19 872.5,85.19 872.5,71.4 872.9,71.4 872.9,64.51 873.3,64.51 873.3,92.09 873.7,92.09 873.7,85.19 874.1,85.19 874.1,64.51 874.5,64.51 874.5,85.19 874.9,85.19 874.9,85.19 875.3,85.19 875.3,98.98 875.7,98.98 875.7,78.3 876.1,78.3 876.1,78.3 876.5,78.3 876.5,71.4 876.9,71.4 876.9,98.98 877.3,98.98 877.3,92.09 877.7,92.09 877.7,78.3 878.1,78.3 878.1,71.4 878.5,71.4 878.5,71.4 878.9,71.4 878.9,98.98 879.3,98.98 879.3,105.88 879.7,105.88 879.7,98.98 880.1,98.98 880.1,92.09 880.5,92.09 880.5,98.98 880.9,98.98 880.9,85.19 881.3,85.19 881.3,98.98 881.7,98.98 881.7,105.88 882.1,105.88 882.1,85.19 882.5,85.19 882.5,85.19 882.9,85.19 882.9,98.98 883.3,98.98 883.3,98.98 883.7,98.98 883.7,98.98 884.1,98.98 884.1,105.88 884.5,105.88 884.5,85.19 884.9,85.19 884.9,105.88 885.3,105.88 885.3,85.19 885.7,85.19 885.7,85.19 886.1,85.19 886.1,98.98 886.5,98.98 886.5,105.88 886.9,105.88 886.9,105.88 887.3,105.88 887.3,98.98 887.7,98.98 887.7,92.09 888.1,92.09 888.1,105.88 888.5,105.88 888.5,105.88 888.9,105.88 888.9,92.09 889.3,92.09 889.3,98.98 889.7,98.98 889.7,85.19 890.1,85.19 890.1,98.98 890.5,98.98 890.5,98.98 890.9,98.98 890.9,78.3 891.3,78.3 891.3,98.98 891.7,98.98 891.7,92.09 892.1,92.09 892.1,92.09 892.5,92.09 892.5,85.19 892.9,85.19 892.9,98.98 893.3,98.98 893.3,85.19 893.7,85.19 893.7,98.98 894.1,98.98 894.1,85.19 894.5,85.19 894.5,105.88 894.9,105.88 894.9,105.88 895.3,105.88 895.3,105.88 895.7,105.88 895.7,98.98 896.1,98.98 896.1,85.19 896.5,85.19 896.5,92.09 896.9,92.09 896.9,85.19 897.3,85.19 897.3,78.3 897.7,78.3 897.7,105.88 898.1,105.88 898.1,85.19 898.5,85.19 898.5,71.4 898.9,71.4 898.9,98.98 899.3,98.98 899.3,105.88 899.7,105.88 899.7,92.09 900.1,92.09 900.1,92.09 900.5,92.09 900.5,85.19 900.9,85.19 900.9,85.19 901.3,85.19 901.3,92.09 901.7,92.09 901.7,105.88 902.1,105.88 902.1,98.98 902.5,98.98 902.5,92.09 902.9,92.09 902.9,105.88 903.3,105.88 903.3,92.09 903.7,92.09 903.7,78.3 904.1,78.3 904.1,92.09 904.5,92.09 904.5,105.88 904.9,105.88 904.9,85.19 905.3,85.19 905.3,98.98 905.7,98.98 905.7,92.09 906.1,92.09 906.1,98.98 906.5,98.98 906.5,105.88 906.9,105.88 906.9,85.19 907.3,85.19 907.3,92.09 907.7,92.09 907.7,78.3 908.1,78.3 908.1,112.77 908.5,112.77 908.5,92.09 908.9,92.09 908.9,92.09 909.3,92.09 909.3,92.09 909.7,92.09 909.7,85.19 910.1,85.19 910.1,98.98 910.5,98.98 910.5,92.09 910.9,92.09 910.9,105.88 911.3,105.88 911.3,92.09 911.7,92.09 911.7,92.09 912.1,92.09 912.1,105.88 912.5,105.88 912.5,92.09 912.9,92.09 912.9,98.98 913.3,98.98 913.3,98.98 913.7,98.98 913.7,105.88 914.1,105.88 914.1,85.19 914.5,85.19 914.5,78.3 914.9,78.3 914.9,98.98 915.3,98.98 915.3,105.88 915.7,105.88 915.7,105.88 916.1,105.88 916.1,85.19 916.5,85.19 916.5,92.09 916.9,92.09 916.9,105.88 917.3,105.88 917.3,105.88 917.7,105.88 917.7,78.3 918.1,78.3 918.1,85.19 918.5,85.19 918.5,85.19 918.9,85.19 918.9,105.88 919.3,105.88 919.3,78.3 919.7,78.3 919.7,98.98 920.1,98.98 920.1,98.98 920.5,98.98 920.5,98.98 920.9,98.98 920.9,78.3 921.3,78.3 921.3,85.19 921.7,85.19 921.7,92.09 922.1,92.09 922.1,92.09 922.5,92.09 922.5,85.19 922.9,85.19 922.9,92.09 923.3,92.09 923.3,92.09 923.7,92.09 923.7,112.77 924.1,112.77 924.1,78.3 924.5,78.3 924.5,105.88 924.9,105.88 924.9,78.3 925.3,78.3 925.3,78.3 925.7,78.3 925.7,92.09 926.1,92.09 926.1,105.88 926.5,105.88 926.5,98.98 926.9,98.98 926.9,112.77 927.3,112.77 927.3,85.19 927.7,85.19 927.7,98.98 928.1,98.98 928.1,78.3 928.5,78.3 928.5,98.98 928.9,98.98 928.9,98.98 929.3,98.98 929.3,85.19 929.7,85.19 929.7,78.3 930.1,78.3 930.1,92.09 930.5,92.09 930.5,105.88 930.9,105.88 930.9,112.77 931.3,112.77 931.3,85.19 931.7,85.19 931.7,78.3 932.1,78.3 932.1,78.3 932.5,78.3 932.5,92.09 932.9,92.09 932.9,92.09 933.3,92.09 933.3,85.19 933.7,85.19 933.7,92.09 934.1,92.09 934.1,78.3 934.5,78.3 934.5,98.98 934.9,98.98 934.9,105.88 935.3,105.88 935.3,98.98 935.7,98.98 935.7,98.98 936.1,98.98 936.1,78.3 936.5,78.3 936.5,78.3 936.9,78.3 936.9,85.19 937.3,85.19 937.3,78.3 937.7,78.3 937.7,98.98 938.1,98.98 938.1,78.3 938.5,78.3 938.5,78.3 938.9,78.3 938.9,105.88 939.3,105.88 939.3,98.98 939.7,98.98 939.7,98.98 940.1,98.98 940.1,105.88 940.5,105.88 940.5,85.19 940.9,85.19 940.9,98.98 941.3,98.98 941.3,78.3 941.7,78.3 941.7,92.09 942.1,92.09 942.1,105.88 942.5,105.88 942.5,92.09 942.9,92.09 942.9,85.19 943.3,85.19 943.3,98.98 943.7,98.98 943.7,92.09 944.1,92.09 944.1,98.98 944.5,98.98 944.5,92.09 944.9,92.09 944.9,78.3 945.3,78.3 945.3,105.88 945.7,105.88 945.7,85.19 946.1,85.19 946.1,92.09 946.5,92.09 946.5,105.88 946.9,105.88 946.9,78.3 947.3,78.3 947.3,78.3 947.7,78.3 947.7,78.3 948.1,78.3 948.1,92.09 948.5,92.09 948.5,92.09 948.9,92.09 948.9,85.19 949.3,85.19 949.3,85.19 949.7,85.19 949.7,98.98 950.1,98.98 950.1,98.98 950.5,98.98 950.5,92.09 950.9,92.09 950.9,105.88 951.3,105.88 951.3,78.3 951.7,78.3 951.7,92.09 952.1,92.09 952.1,92.09 952.5,92.09 952.5,85.19 952.9,85.19 952.9,78.3 953.3,78.3 953.3,85.19 953.7,85.19 953.7,98.98 954.1,98.98 954.1,98.98 954.5,98.98 954.5,98.98 954.9,98.98 954.9,92.09 955.3,92.09 955.3,78.3 955.7,78.3 955.7,105.88 956.1,105.88 956.1,85.19 956.5,85.19 956.5,78.3 956.9,78.3 956.9,92.09 957.3,92.09 957.3,98.98 957.7,98.98 957.7,92.09 958.1,92.09 958.1,92.09 958.5,92.09 958.5,78.3 958.9,78.3 958.9,105.88 959.3,105.88 959.3,85.19 959.7,85.19 959.7,92.09 960.1,92.09 960.1,98.98 960.5,98.98 960.5,71.4 960.9,71.4 960.9,92.09 961.3,92.09 961.3,85.19 961.7,85.19 961.7,98.98 962.1,98.98 962.1,92.09 962.5,92.09 962.5,112.77 962.9,112.77 962.9,98.98 963.3,98.98 963.3,98.98 963.7,98.98 963.7,112.77 964.1,112.77 964.1,92.09 964.5,92.09 964.5,92.09 964.9,92.09 964.9,92.09 965.3,92.09 965.3,92.09 965.7,92.09 965.7,98.98 966.1,98.98 966.1,92.09 966.5,92.09 966.5,98.98 966.9,98.98 966.9,85.19 967.3,85.19 967.3,92.09 967.7,92.09 967.7,85.19 968.1,85.19 968.1,71.4 968.5,71.4 968.5,78.3 968.9,78.3 968.9,92.09 969.3,92.09 969.3,78.3 969.7,78.3 969.7,78.3 970.1,78.3 970.1,85.19 970.5,85.19 970.5,105.88 970.9,105.88 970.9,85.19 971.3,85.19 971.3,92.09 971.7,92.09 971.7,85.19 972.1,85.19 972.1,98.98 972.5,98.98 972.5,78.3 972.9,78.3 972.9,98.98 973.3,98.98 973.3,78.3 973.7,78.3 973.7,98.98 974.1,98.98 974.1,92.09 974.5,92.09 974.5,85.19 974.9,85.19 974.9,98.98 975.3,98.98 975.3,98.98 975.7,98.98 975.7,85.19 976.1,85.19 976.1,85.19 976.5,85.19 976.5,78.3 976.9,78.3 976.9,92.09 977.3,92.09 977.3,78.3 977.7,78.3 977.7,98.98 978.1,98.98 978.1,92.09 978.5,92.09 978.5,85.19 978.9,85.19 978.9,105.88 979.3,105.88 979.3,85.19 979.7,85.19 979.7,78.3 980.1,78.3 980.1,92.09 980.5,92.09 980.5,78.3 980.9,78.3 980.9,85.19 981.3,85.19 981.3,98.98 981.7,98.98 981.7,78.3 982.1,78.3 982.1,92.09 982.5,92.09 982.5,85.19 982.9,85.19 982.9,78.3 983.3,78.3 983.3,85.19 983.7,85.19 983.7,85.19 984.1,85.19 984.1,78.3 984.5,78.3 984.5,98.98 984.9,98.98 984.9,105.88 985.3,105.88 985.3,105.88 985.7,105.88 985.7,92.09 986.1,92.09 986.1,78.3 986.5,78.3 986.5,92.09 986.9,92.09 986.9,78.3 987.3,78.3 987.3,98.98 987.7,98.98 987.7,105.88 988.1,105.88 988.1,92.09 988.5,92.09 988.5,78.3 988.9,78.3 988.9,78.3 989.3,78.3 989.3,92.09 989.7,92.09 989.7,98.98 990.1,98.98 990.1,85.19 990.5,85.19 990.5,92.09 990.9,92.09 990.9,98.98 991.3,98.98 991.3,85.19 991.7,85.19 991.7,105.88" fill="none" stroke="#0000ff" stroke-width="1.0" stroke-opacity="0.45"/><g opacity="1.0"><polyline points="77.3,174.83 77.9,174.83 77.9,167.93 78.5,167.93 78.5,167.93 79.1,167.93 79.1,167.93 79.7,167.93 79.7,161.04 80.3,161.04 80.3,181.72 80.9,181.72 80.9,174.83 81.5,174.83 81.5,181.72 82.1,181.72 82.1,174.83 82.7,174.83 82.7,167.93 83.3,167.93 83.3,174.83 83.9,174.83 83.9,167.93 84.5,167.93 84.5,181.72 85.1,181.72 85.1,174.83 85.7,174.83 85.7,181.72 86.3,181.72 86.3,161.04 86.9,161.04 86.9,167.93 87.5,167.93 87.5,167.93 88.1,167.93 88.1,174.83 88.7,174.83 88.7,167.93 89.3,167.93 89.3,167.93 89.9,167.93 89.9,174.83 90.5,174.83 90.5,174.83 91.1,174.83 91.1,174.83 91.7,174.83 91.7,174.83 92.3,174.83 92.3,174.83 92.9,174.83 92.9,174.83 93.5,174.83 93.5,174.83 94.1,174.83 94.1,167.93 94.7,167.93 94.7,181.72 95.3,181.72 95.3,167.93 95.9,167.93 95.9,174.83 96.5,174.83 96.5,174.83 97.1,174.83 97.1,181.72 97.7,181.72 97.7,174.83 98.3,174.83 98.3,174.83 98.9,174.83 98.9,174.83 99.5,174.83 99.5,174.83 100.1,174.83 100.1,174.83 100.7,174.83 100.7,161.04 101.3,161.04 101.3,167.93 101.9,167.93 101.9,174.83 102.5,174.83 102.5,167.93 103.1,167.93 103.1,174.83 103.7,174.83 103.7,167.93 104.3,167.93 104.3,167.93 104.9,167.93 104.9,174.83 105.5,174.83 105.5,181.72 106.1,181.72 106.1,174.83 106.7,174.83 106.7,167.93 107.3,167.93 107.3,174.83 107.9,174.83 107.9,167.93 108.5,167.93 108.5,167.93 109.1,167.93 109.1,174.83 109.7,174.83 109.7,167.93 110.3,167.93 110.3,161.04 110.9,161.04 110.9,167.93 111.5,167.93 111.5,167.93 112.1,167.93 112.1,167.93 112.7,167.93 112.7,161.04 113.3,161.04 113.3,174.83 113.9,174.83 113.9,174.83 114.5,174.83 114.5,167.93 115.1,167.93 115.1,181.72 115.7,181.72 115.7,181.72 116.3,181.72 116.3,181.72 116.9,181.72 116.9,167.93 117.5,167.93 117.5,167.93 118.1,167.93 118.1,181.72 118.7,181.72 118.7,181.72 119.3,181.72 119.3,174.83 119.9,174.83 119.9,174.83 120.5,174.83 120.5,174.83 121.1,174.83 121.1,167.93 121.7,167.93 121.7,167.93 122.3,167.93 122.3,174.83 122.9,174.83 122.9,167.93 123.5,167.93 123.5,181.72 124.1,181.72 124.1,181.72 124.7,181.72 124.7,174.83 125.3,174.83 125.3,167.93 125.9,167.93 125.9,167.93 126.5,167.93 126.5,167.93 127.1,167.93 127.1,167.93 127.7,167.93 127.7,167.93 128.3,167.93 128.3,181.72 128.9,181.72 128.9,174.83 129.5,174.83 129.5,167.93 130.1,167.93 130.1,167.93 130.7,167.93 130.7,181.72 131.3,181.72 131.3,167.93 131.9,167.93 131.9,174.83 132.5,174.83 132.5,174.83 133.1,174.83 133.1,174.83 133.7,174.83 133.7,167.93 134.3,167.93 134.3,181.72 134.9,181.72 134.9,167.93 135.5,167.93 135.5,174.83 136.1,174.83 136.1,174.83 136.7,174.83 136.7,174.83 137.3,174.83 137.3,188.62 137.9,188.62 137.9,174.83 138.5,174.83 138.5,174.83 139.1,174.83 139.1,174.83 139.7,174.83 139.7,174.83 140.3,174.83 140.3,174.83 140.9,174.83 140.9,174.83 141.5,174.83 141.5,167.93 142.1,167.93 142.1,174.83 142.7,174.83 142.7,174.83 143.3,174.83 143.3,167.93 143.9,167.93 143.9,161.04 144.5,161.04 144.5,174.83 145.1,174.83 145.1,167.93 145.7,167.93 145.7,181.72 146.3,181.72 146.3,167.93 146.9,167.93 146.9,167.93 147.5,167.93 147.5,167.93 148.1,167.93 148.1,174.83 148.7,174.83 148.7,181.72 149.3,181.72 149.3,167.93 149.9,167.93 149.9,167.93 150.5,167.93 150.5,181.72 151.1,181.72 151.1,181.72 151.7,181.72 151.7,167.93 152.3,167.93 152.3,174.83 152.9,174.83 152.9,161.04 153.5,161.04 153.5,174.83 154.1,174.83 154.1,174.83 154.7,174.83 154.7,174.83 155.3,174.83 155.3,181.72 155.9,181.72 155.9,181.72 156.5,181.72 156.5,161.04 157.1,161.04 157.1,174.83 157.7,174.83 157.7,174.83 158.3,174.83 158.3,181.72 158.9,181.72 158.9,167.93 159.5,167.93 159.5,167.93 160.1,167.93 160.1,174.83 160.7,174.83 160.7,174.83 161.3,174.83 161.3,167.93 161.9,167.93 161.9,167.93 162.5,167.93 162.5,174.83 163.1,174.83 163.1,167.93 163.7,167.93 163.7,188.62 164.3,188.62 164.3,181.72 164.9,181.72 164.9,174.83 165.5,174.83 165.5,174.83 166.1,174.83 166.1,181.72 166.7,181.72 166.7,167.93 167.3,167.93 167.3,167.93 167.9,167.93 167.9,167.93 168.5,167.93 168.5,174.83 169.1,174.83 169.1,167.93 169.7,167.93 169.7,167.93 170.3,167.93 170.3,181.72 170.9,181.72 170.9,174.83 171.5,174.83 171.5,167.93 172.1,167.93 172.1,181.72 172.7,181.72 172.7,174.83 173.3,174.83 173.3,174.83 173.9,174.83 173.9,174.83 174.5,174.83 174.5,181.72 175.1,181.72 175.1,174.83 175.7,174.83 175.7,167.93 176.3,167.93 176.3,167.93 176.9,167.93 176.9,181.72 177.5,181.72 177.5,174.83 178.1,174.83 178.1,167.93 178.7,167.93 178.7,167.93 179.3,167.93 179.3,167.93 179.9,167.93 179.9,167.93 180.5,167.93 180.5,167.93 181.1,167.93 181.1,167.93 181.7,167.93 181.7,174.83 182.3,174.83 182.3,174.83 182.9,174.83 182.9,174.83 183.5,174.83 183.5,188.62 184.1,188.62 184.1,181.72 184.7,181.72 184.7,161.04 185.3,161.04 185.3,181.72 185.9,181.72 185.9,181.72 186.5,181.72 186.5,174.83 187.1,174.83 187.1,161.04 187.7,161.04 187.7,174.83 188.3,174.83 188.3,167.93 188.9,167.93 188.9,174.83 189.5,174.83 189.5,174.83 190.1,174.83 190.1,161.04 190.7,161.04 190.7,167.93 191.3,167.93 191.3,174.83 191.9,174.83 191.9,167.93 192.5,167.93 192.5,167.93 193.1,167.93 193.1,174.83 193.7,174.83 193.7,167.93 194.3,167.93 194.3,167.93 194.9,167.93 194.9,174.83 195.5,174.83 195.5,167.93 196.1,167.93 196.1,174.83 196.7,174.83 196.7,174.83 197.3,174.83 197.3,181.72 197.9,181.72 197.9,174.83 198.5,174.83 198.5,161.04 199.1,161.04 199.1,174.83 199.7,174.83 199.7,167.93 200.3,167.93 200.3,174.83 200.9,174.83 200.9,167.93 201.5,167.93 201.5,167.93 202.1,167.93 202.1,174.83 202.7,174.83 202.7,167.93 203.3,167.93 203.3,167.93 203.9,167.93 203.9,167.93 204.5,167.93 204.5,167.93 205.1,167.93 205.1,167.93 205.7,167.93 205.7,167.93 206.3,167.93 206.3,161.04 206.9,161.04 206.9,167.93 207.5,167.93 207.5,174.83 208.1,174.83 208.1,167.93 208.7,167.93 208.7,167.93 209.3,167.93 209.3,167.93 209.9,167.93 209.9,161.04 210.5,161.04 210.5,167.93 211.1,167.93 211.1,167.93 211.7,167.93 211.7,174.83 212.3,174.83 212.3,167.93 212.9,167.93 212.9,167.93 213.5,167.93 213.5,161.04 214.1,161.04 214.1,167.93 214.7,167.93 214.7,167.93 215.3,167.93 215.3,154.14 215.9,154.14 215.9,174.83 216.5,174.83 216.5,161.04 217.1,161.04 217.1,161.04 217.7,161.04 217.7,161.04 218.3,161.04 218.3,167.93 218.9,167.93 218.9,167.93 219.5,167.93 219.5,167.93 220.1,167.93 220.1,161.04 220.7,161.04 220.7,174.83 221.3,174.83 221.3,167.93 221.9,167.93 221.9,161.04 222.5,161.04 222.5,167.93 223.1,167.93 223.1,174.83 223.7,174.83 223.7,161.04 224.3,161.04 224.3,167.93 224.9,167.93 224.9,161.04 225.5,161.04 225.5,154.14 226.1,154.14 226.1,161.04 226.7,161.04 226.7,174.83 227.3,174.83 227.3,161.04 227.9,161.04 227.9,167.93 228.5,167.93 228.5,154.14 229.1,154.14 229.1,154.14 229.7,154.14 229.7,161.04 230.3,161.04 230.3,147.25 230.9,147.25 230.9,154.14 231.5,154.14 231.5,154.14 232.1,154.14 232.1,161.04 232.7,161.04 232.7,161.04 233.3,161.04 233.3,167.93 233.9,167.93 233.9,154.14 234.5,154.14 234.5,161.04 235.1,161.04 235.1,147.25 235.7,147.25 235.7,154.14 236.3,154.14 236.3,167.93 236.9,167.93 236.9,154.14 237.5,154.14 237.5,154.14 238.1,154.14 238.1,147.25 238.7,147.25 238.7,161.04 239.3,161.04 239.3,161.04 239.9,161.04 239.9,154.14 240.5,154.14 240.5,161.04 241.1,161.04 241.1,167.93 241.7,167.93 241.7,161.04 242.3,161.04 242.3,140.35 242.9,140.35 242.9,161.04 243.5,161.04 243.5,161.04 244.1,161.04 244.1,161.04 244.7,161.04 244.7,154.14 245.3,154.14 245.3,147.25 245.9,147.25 245.9,154.14 246.5,154.14 246.5,154.14 247.1,154.14 247.1,154.14 247.7,154.14 247.7,154.14 248.3,154.14 248.3,161.04 248.9,161.04 248.9,167.93 249.5,167.93 249.5,147.25 250.1,147.25 250.1,161.04 250.7,161.04 250.7,154.14 251.3,154.14 251.3,161.04 251.9,161.04 251.9,154.14 252.5,154.14 252.5,154.14 253.1,154.14 253.1,161.04 253.7,161.04 253.7,154.14 254.3,154.14 254.3,154.14 254.9,154.14 254.9,154.14 255.5,154.14 255.5,154.14 256.1,154.14 256.1,154.14 256.7,154.14 256.7,154.14 257.3,154.14 257.3,154.14 257.9,154.14 257.9,167.93 258.5,167.93 258.5,161.04 259.1,161.04 259.1,147.25 259.7,147.25 259.7,154.14 260.3,154.14 260.3,154.14 260.9,154.14 260.9,161.04 261.5,161.04 261.5,161.04 262.1,161.04 262.1,147.25 262.7,147.25 262.7,154.14 263.3,154.14 263.3,147.25 263.9,147.25 263.9,154.14 264.5,154.14 264.5,161.04 265.1,161.04 265.1,167.93 265.7,167.93 265.7,154.14 266.3,154.14 266.3,167.93 266.9,167.93 266.9,167.93 267.5,167.93 267.5,147.25 268.1,147.25 268.1,154.14 268.7,154.14 268.7,154.14 269.3,154.14 269.3,154.14 269.9,154.14 269.9,154.14 270.5,154.14 270.5,154.14 271.1,154.14 271.1,154.14 271.7,154.14 271.7,154.14 272.3,154.14 272.3,154.14 272.9,154.14 272.9,167.93 273.5,167.93 273.5,154.14 274.1,154.14 274.1,161.04 274.7,161.04 274.7,154.14 275.3,154.14 275.3,147.25 275.9,147.25 275.9,161.04 276.5,161.04 276.5,154.14 277.1,154.14 277.1,154.14 277.7,154.14 277.7,161.04 278.3,161.04 278.3,161.04 278.9,161.04 278.9,154.14 279.5,154.14 279.5,167.93 280.1,167.93 280.1,161.04 280.7,161.04 280.7,154.14 281.3,154.14 281.3,161.04 281.9,161.04 281.9,161.04 282.5,161.04 282.5,161.04 283.1,161.04 283.1,147.25 283.7,147.25 283.7,147.25 284.3,147.25 284.3,154.14 284.9,154.14 284.9,161.04 285.5,161.04 285.5,154.14 286.1,154.14 286.1,154.14 286.7,154.14 286.7,161.04 287.3,161.04 287.3,161.04 287.9,161.04 287.9,154.14 288.5,154.14 288.5,154.14 289.1,154.14 289.1,167.93 289.7,167.93 289.7,154.14 290.3,154.14 290.3,154.14 290.9,154.14 290.9,147.25 291.5,147.25 291.5,154.14 292.1,154.14 292.1,154.14 292.7,154.14 292.7,147.25 293.3,147.25 293.3,167.93 293.9,167.93 293.9,147.25 294.5,147.25 294.5,154.14 295.1,154.14 295.1,161.04 295.7,161.04 295.7,167.93 296.3,167.93 296.3,154.14 296.9,154.14 296.9,161.04 297.5,161.04 297.5,147.25 298.1,147.25 298.1,154.14 298.7,154.14 298.7,154.14 299.3,154.14 299.3,147.25 299.9,147.25 299.9,154.14 300.5,154.14 300.5,147.25 301.1,147.25 301.1,147.25 301.7,147.25 301.7,147.25 302.3,147.25 302.3,147.25 302.9,147.25 302.9,147.25 303.5,147.25 303.5,154.14 304.1,154.14 304.1,147.25 304.7,147.25 304.7,147.25 305.3,147.25 305.3,147.25 305.9,147.25 305.9,154.14 306.5,154.14 306.5,147.25 307.1,147.25 307.1,140.35 307.7,140.35 307.7,140.35 308.3,140.35 308.3,126.56 308.9,126.56 308.9,147.25 309.5,147.25 309.5,140.35 310.1,140.35 310.1,140.35 310.7,140.35 310.7,140.35 311.3,140.35 311.3,140.35 311.9,140.35 311.9,147.25 312.5,147.25 312.5,133.46 313.1,133.46 313.1,133.46 313.7,133.46 313.7,126.56 314.3,126.56 314.3,140.35 314.9,140.35 314.9,133.46 315.5,133.46 315.5,126.56 316.1,126.56 316.1,133.46 316.7,133.46 316.7,133.46 317.3,133.46 317.3,133.46 317.9,133.46 317.9,126.56 318.5,126.56 318.5,126.56 319.1,126.56 319.1,119.67 319.7,119.67 319.7,133.46 320.3,133.46 320.3,133.46 320.9,133.46 320.9,140.35 321.5,140.35 321.5,133.46 322.1,133.46 322.1,133.46 322.7,133.46 322.7,133.46 323.3,133.46 323.3,140.35 323.9,140.35 323.9,126.56 324.5,126.56 324.5,140.35 325.1,140.35 325.1,126.56 325.7,126.56 325.7,140.35 326.3,140.35 326.3,126.56 326.9,126.56 326.9,119.67 327.5,119.67 327.5,133.46 328.1,133.46 328.1,126.56 328.7,126.56 328.7,133.46 329.3,133.46 329.3,126.56 329.9,126.56 329.9,126.56 330.5,126.56 330.5,133.46 331.1,133.46 331.1,133.46 331.7,133.46 331.7,133.46 332.3,133.46 332.3,133.46 332.9,133.46 332.9,140.35 333.5,140.35 333.5,126.56 334.1,126.56 334.1,133.46 334.7,133.46 334.7,126.56 335.3,126.56 335.3,126.56 335.9,126.56 335.9,140.35 336.5,140.35 336.5,126.56 337.1,126.56 337.1,140.35 337.7,140.35 337.7,126.56 338.3,126.56 338.3,126.56 338.9,126.56 338.9,140.35 339.5,140.35 339.5,140.35 340.1,140.35 340.1,140.35 340.7,140.35 340.7,119.67 341.3,119.67 341.3,140.35 341.9,140.35 341.9,140.35 342.5,140.35 342.5,133.46 343.1,133.46 343.1,140.35 343.7,140.35 343.7,140.35 344.3,140.35 344.3,147.25 344.9,147.25 344.9,154.14 345.5,154.14 345.5,147.25 346.1,147.25 346.1,147.25 346.7,147.25 346.7,147.25 347.3,147.25 347.3,147.25 347.9,147.25 347.9,147.25 348.5,147.25 348.5,140.35 349.1,140.35 349.1,140.35 349.7,140.35 349.7,140.35 350.3,140.35 350.3,147.25 350.9,147.25 350.9,154.14 351.5,154.14 351.5,140.35 352.1,140.35 352.1,140.35 352.7,140.35 352.7,140.35 353.3,140.35 353.3,147.25 353.9,147.25 353.9,147.25 354.5,147.25 354.5,147.25 355.1,147.25 355.1,154.14 355.7,154.14 355.7,147.25 356.3,147.25 356.3,147.25 356.9,147.25 356.9,154.14 357.5,154.14 357.5,147.25 358.1,147.25 358.1,147.25 358.7,147.25 358.7,147.25 359.3,147.25 359.3,147.25 359.9,147.25 359.9,154.14 360.5,154.14 360.5,147.25 361.1,147.25 361.1,147.25 361.7,147.25 361.7,147.25 362.3,147.25 362.3,147.25 362.9,147.25 362.9,147.25 363.5,147.25 363.5,140.35 364.1,140.35 364.1,147.25 364.7,147.25 364.7,154.14 365.3,154.14 365.3,154.14 365.9,154.14 365.9,154.14 366.5,154.14 366.5,154.14 367.1,154.14 367.1,147.25 367.7,147.25 367.7,147.25 368.3,147.25 368.3,154.14 368.9,154.14 368.9,154.14 369.5,154.14 369.5,161.04 370.1,161.04 370.1,154.14 370.7,154.14 370.7,147.25 371.3,147.25 371.3,154.14 371.9,154.14 371.9,154.14 372.5,154.14 372.5,154.14 373.1,154.14 373.1,161.04 373.7,161.04 373.7,154.14 374.3,154.14 374.3,154.14 374.9,154.14 374.9,147.25 375.5,147.25 375.5,154.14 376.1,154.14 376.1,154.14 376.7,154.14 376.7,154.14 377.3,154.14 377.3,154.14 377.9,154.14 377.9,147.25 378.5,147.25 378.5,154.14 379.1,154.14 379.1,154.14 379.7,154.14 379.7,154.14 380.3,154.14 380.3,154.14 380.9,154.14 380.9,154.14 381.5,154.14 381.5,154.14 382.1,154.14 382.1,147.25 382.7,147.25 382.7,154.14 383.3,154.14 383.3,154.14 383.9,154.14 383.9,154.14 384.5,154.14 384.5,154.14 385.1,154.14 385.1,154.14 385.7,154.14 385.7,147.25 386.3,147.25 386.3,154.14 386.9,154.14 386.9,147.25 387.5,147.25 387.5,154.14 388.1,154.14 388.1,154.14 388.7,154.14 388.7,161.04 389.3,161.04 389.3,147.25 389.9,147.25 389.9,147.25 390.5,147.25 390.5,154.14 391.1,154.14 391.1,147.25 391.7,147.25 391.7,147.25 392.3,147.25 392.3,154.14 392.9,154.14 392.9,154.14 393.5,154.14 393.5,154.14 394.1,154.14 394.1,154.14 394.7,154.14 394.7,147.25 395.3,147.25 395.3,154.14 395.9,154.14 395.9,161.04 396.5,161.04 396.5,147.25 397.1,147.25 397.1,161.04 397.7,161.04 397.7,154.14 398.3,154.14 398.3,154.14 398.9,154.14 398.9,154.14 399.5,154.14 399.5,154.14 400.1,154.14 400.1,161.04 400.7,161.04 400.7,147.25 401.3,147.25 401.3,154.14 401.9,154.14 401.9,154.14 402.5,154.14 402.5,161.04 403.1,161.04 403.1,154.14 403.7,154.14 403.7,147.25 404.3,147.25 404.3,147.25 404.9,147.25 404.9,140.35 405.5,140.35 405.5,147.25 406.1,147.25 406.1,154.14 406.7,154.14 406.7,154.14 407.3,154.14 407.3,147.25 407.9,147.25 407.9,154.14 408.5,154.14 408.5,154.14 409.1,154.14 409.1,161.04 409.7,161.04 409.7,161.04 410.3,161.04 410.3,154.14 410.9,154.14 410.9,161.04 411.5,161.04 411.5,161.04 412.1,161.04 412.1,167.93 412.7,167.93 412.7,154.14 413.3,154.14 413.3,161.04 413.9,161.04 413.9,154.14 414.5,154.14 414.5,161.04 415.1,161.04 415.1,167.93 415.7,167.93 415.7,167.93 416.3,167.93 416.3,161.04 416.9,161.04 416.9,161.04 417.5,161.04 417.5,167.93 418.1,167.93 418.1,161.04 418.7,161.04 418.7,167.93 419.3,167.93 419.3,161.04 419.9,161.04 419.9,167.93 420.5,167.93 420.5,174.83 421.1,174.83 421.1,167.93 421.7,167.93 421.7,167.93 422.3,167.93 422.3,154.14 422.9,154.14 422.9,167.93 423.5,167.93 423.5,174.83 424.1,174.83 424.1,167.93 424.7,167.93 424.7,167.93 425.3,167.93 425.3,167.93 425.9,167.93 425.9,167.93 426.5,167.93 426.5,174.83 427.1,174.83 427.1,167.93 427.7,167.93 427.7,167.93 428.3,167.93 428.3,174.83 428.9,174.83 428.9,174.83 429.5,174.83 429.5,167.93 430.1,167.93 430.1,181.72 430.7,181.72 430.7,174.83 431.3,174.83 431.3,174.83 431.9,174.83 431.9,167.93 432.5,167.93 432.5,167.93 433.1,167.93 433.1,181.72 433.7,181.72 433.7,167.93 434.3,167.93 434.3,167.93 434.9,167.93 434.9,161.04 435.5,161.04 435.5,174.83 436.1,174.83 436.1,174.83 436.7,174.83 436.7,181.72 437.3,181.72 437.3,167.93 437.9,167.93 437.9,167.93 438.5,167.93 438.5,174.83 439.1,174.83 439.1,167.93 439.7,167.93 439.7,167.93 440.3,167.93 440.3,167.93 440.9,167.93 440.9,174.83 441.5,174.83 441.5,167.93 442.1,167.93 442.1,174.83 442.7,174.83 442.7,174.83 443.3,174.83 443.3,167.93 443.9,167.93 443.9,167.93 444.5,167.93 444.5,174.83 445.1,174.83 445.1,167.93 445.7,167.93 445.7,161.04 446.3,161.04 446.3,181.72 446.9,181.72 446.9,167.93 447.5,167.93 447.5,167.93 448.1,167.93 448.1,174.83 448.7,174.83 448.7,167.93 449.3,167.93 449.3,174.83 449.9,174.83 449.9,167.93 450.5,167.93 450.5,174.83 451.1,174.83 451.1,174.83 451.7,174.83 451.7,181.72 452.3,181.72 452.3,174.83 452.9,174.83 452.9,167.93 453.5,167.93 453.5,181.72 454.1,181.72 454.1,174.83 454.7,174.83 454.7,167.93 455.3,167.93 455.3,174.83 455.9,174.83 455.9,181.72 456.5,181.72 456.5,181.72 457.1,181.72 457.1,174.83 457.7,174.83 457.7,161.04 458.3,161.04 458.3,174.83 458.9,174.83 458.9,167.93 459.5,167.93 459.5,167.93 460.1,167.93 460.1,174.83 460.7,174.83 460.7,174.83 461.3,174.83 461.3,174.83 461.9,174.83 461.9,174.83 462.5,174.83 462.5,161.04 463.1,161.04 463.1,161.04 463.7,161.04 463.7,174.83 464.3,174.83 464.3,167.93 464.9,167.93 464.9,174.83 465.5,174.83 465.5,174.83 466.1,174.83 466.1,167.93 466.7,167.93 466.7,181.72 467.3,181.72 467.3,181.72 467.9,181.72 467.9,174.83 468.5,174.83 468.5,181.72 469.1,181.72 469.1,167.93 469.7,167.93 469.7,167.93 470.3,167.93 470.3,174.83 470.9,174.83 470.9,167.93 471.5,167.93 471.5,174.83 472.1,174.83 472.1,174.83 472.7,174.83 472.7,167.93 473.3,167.93 473.3,167.93 473.9,167.93 473.9,174.83 474.5,174.83 474.5,174.83 475.1,174.83 475.1,174.83 475.7,174.83 475.7,167.93 476.3,167.93 476.3,181.72 476.9,181.72 476.9,174.83 477.5,174.83 477.5,174.83 478.1,174.83 478.1,181.72 478.7,181.72 478.7,181.72 479.3,181.72 479.3,174.83 479.9,174.83 479.9,167.93 480.5,167.93 480.5,167.93 481.1,167.93 481.1,174.83 481.7,174.83 481.7,181.72 482.3,181.72 482.3,174.83 482.9,174.83 482.9,174.83 483.5,174.83 483.5,174.83 484.1,174.83 484.1,174.83 484.7,174.83 484.7,167.93 485.3,167.93 485.3,181.72 485.9,181.72 485.9,174.83 486.5,174.83 486.5,174.83 487.1,174.83 487.1,167.93 487.7,167.93 487.7,174.83 488.3,174.83 488.3,174.83 488.9,174.83 488.9,174.83 489.5,174.83 489.5,174.83 490.1,174.83 490.1,174.83 490.7,174.83 490.7,174.83 491.3,174.83 491.3,181.72 491.9,181.72 491.9,167.93 492.5,167.93 492.5,167.93 493.1,167.93 493.1,181.72 493.7,181.72 493.7,174.83 494.3,174.83 494.3,167.93 494.9,167.93 494.9,174.83 495.5,174.83 495.5,174.83 496.1,174.83 496.1,174.83 496.7,174.83 496.7,188.62 497.3,188.62 497.3,188.62 497.9,188.62 497.9,174.83 498.5,174.83 498.5,174.83 499.1,174.83 499.1,167.93 499.7,167.93 499.7,181.72 500.3,181.72 500.3,174.83 500.9,174.83 500.9,174.83 501.5,174.83 501.5,167.93 502.1,167.93 502.1,181.72 502.7,181.72 502.7,181.72 503.3,181.72 503.3,174.83 503.9,174.83 503.9,174.83 504.5,174.83 504.5,181.72 505.1,181.72 505.1,181.72 505.7,181.72 505.7,188.62 506.3,188.62 506.3,167.93 506.9,167.93 506.9,181.72 507.5,181.72 507.5,174.83 508.1,174.83 508.1,181.72 508.7,181.72 508.7,174.83 509.3,174.83 509.3,174.83 509.9,174.83 509.9,181.72 510.5,181.72 510.5,174.83 511.1,174.83 511.1,167.93 511.7,167.93 511.7,174.83 512.3,174.83 512.3,174.83 512.9,174.83 512.9,181.72 513.5,181.72 513.5,174.83 514.1,174.83 514.1,181.72 514.7,181.72 514.7,174.83 515.3,174.83 515.3,181.72 515.9,181.72 515.9,181.72 516.5,181.72 516.5,181.72 517.1,181.72 517.1,181.72 517.7,181.72 517.7,174.83 518.3,174.83 518.3,161.04 518.9,161.04 518.9,181.72 519.5,181.72 519.5,188.62 520.1,188.62 520.1,174.83 520.7,174.83 520.7,181.72 521.3,181.72 521.3,167.93 521.9,167.93 521.9,174.83 522.5,174.83 522.5,174.83 523.1,174.83 523.1,181.72 523.7,181.72 523.7,188.62 524.3,188.62 524.3,181.72 524.9,181.72 524.9,174.83 525.5,174.83 525.5,181.72 526.1,181.72 526.1,188.62 526.7,188.62 526.7,181.72 527.3,181.72 527.3,181.72 527.9,181.72 527.9,181.72 528.5,181.72 528.5,181.72 529.1,181.72 529.1,167.93 529.7,167.93 529.7,181.72 530.3,181.72 530.3,181.72 530.9,181.72 530.9,181.72 531.5,181.72 531.5,174.83 532.1,174.83 532.1,188.62 532.7,188.62 532.7,167.93 533.3,167.93 533.3,181.72 533.9,181.72 533.9,188.62 534.5,188.62 534.5,174.83 535.1,174.83 535.1,181.72 535.7,181.72 535.7,174.83 536.3,174.83 536.3,188.62 536.9,188.62 536.9,174.83 537.5,174.83 537.5,181.72 538.1,181.72 538.1,174.83 538.7,174.83 538.7,181.72 539.3,181.72 539.3,181.72 539.9,181.72 539.9,167.93 540.5,167.93 540.5,174.83 541.1,174.83 541.1,188.62 541.7,188.62 541.7,174.83 542.3,174.83 542.3,181.72 542.9,181.72 542.9,181.72 543.5,181.72 543.5,181.72 544.1,181.72 544.1,167.93 544.7,167.93 544.7,181.72 545.3,181.72 545.3,174.83 545.9,174.83 545.9,174.83 546.5,174.83 546.5,188.62 547.1,188.62 547.1,181.72 547.7,181.72 547.7,167.93 548.3,167.93 548.3,188.62 548.9,188.62 548.9,174.83 549.5,174.83 549.5,174.83 550.1,174.83 550.1,167.93 550.7,167.93 550.7,167.93 551.3,167.93 551.3,167.93 551.9,167.93 551.9,174.83 552.5,174.83 552.5,174.83 553.1,174.83 553.1,181.72 553.7,181.72 553.7,181.72 554.3,181.72 554.3,167.93 554.9,167.93 554.9,181.72 555.5,181.72 555.5,167.93 556.1,167.93 556.1,167.93 556.7,167.93 556.7,181.72 557.3,181.72 557.3,167.93 557.9,167.93 557.9,181.72 558.5,181.72 558.5,174.83 559.1,174.83 559.1,181.72 559.7,181.72 559.7,174.83 560.3,174.83 560.3,174.83 560.9,174.83 560.9,181.72 561.5,181.72 561.5,161.04 562.1,161.04 562.1,167.93 562.7,167.93 562.7,188.62 563.3,188.62 563.3,174.83 563.9,174.83 563.9,181.72 564.5,181.72 564.5,161.04 565.1,161.04 565.1,174.83 565.7,174.83 565.7,174.83 566.3,174.83 566.3,174.83 566.9,174.83 566.9,167.93 567.5,167.93 567.5,181.72 568.1,181.72 568.1,181.72 568.7,181.72 568.7,181.72 569.3,181.72 569.3,181.72 569.9,181.72 569.9,167.93 570.5,167.93 570.5,174.83 571.1,174.83 571.1,181.72 571.7,181.72 571.7,174.83 572.3,174.83 572.3,181.72 572.9,181.72 572.9,174.83 573.5,174.83 573.5,188.62 574.1,188.62 574.1,174.83 574.7,174.83 574.7,167.93 575.3,167.93 575.3,174.83 575.9,174.83 575.9,181.72 576.5,181.72 576.5,174.83 577.1,174.83 577.1,181.72 577.7,181.72 577.7,181.72 578.3,181.72 578.3,167.93 578.9,167.93 578.9,181.72 579.5,181.72 579.5,161.04 580.1,161.04 580.1,167.93 580.7,167.93 580.7,174.83 581.3,174.83 581.3,181.72 581.9,181.72 581.9,174.83 582.5,174.83 582.5,195.51 583.1,195.51 583.1,174.83 583.7,174.83 583.7,167.93 584.3,167.93 584.3,174.83 584.9,174.83 584.9,181.72 585.5,181.72 585.5,174.83 586.1,174.83 586.1,174.83 586.7,174.83 586.7,174.83 587.3,174.83 587.3,174.83 587.9,174.83 587.9,167.93 588.5,167.93 588.5,174.83 589.1,174.83 589.1,181.72 589.7,181.72 589.7,174.83 590.3,174.83 590.3,174.83 590.9,174.83 590.9,188.62 591.5,188.62 591.5,181.72 592.1,181.72 592.1,181.72 592.7,181.72 592.7,195.51 593.3,195.51 593.3,188.62 593.9,188.62 593.9,167.93 594.5,167.93 594.5,181.72 595.1,181.72 595.1,174.83 595.7,174.83 595.7,181.72 596.3,181.72 596.3,174.83 596.9,174.83 596.9,181.72 597.5,181.72 597.5,188.62 598.1,188.62 598.1,181.72 598.7,181.72 598.7,174.83 599.3,174.83 599.3,167.93 599.9,167.93 599.9,181.72 600.5,181.72 600.5,188.62 601.1,188.62 601.1,188.62 601.7,188.62 601.7,181.72 602.3,181.72 602.3,181.72 602.9,181.72 602.9,181.72 603.5,181.72 603.5,188.62 604.1,188.62 604.1,181.72 604.7,181.72 604.7,181.72 605.3,181.72 605.3,181.72 605.9,181.72 605.9,195.51 606.5,195.51 606.5,188.62 607.1,188.62 607.1,174.83 607.7,174.83 607.7,188.62 608.3,188.62 608.3,174.83 608.9,174.83 608.9,181.72 609.5,181.72 609.5,188.62 610.1,188.62 610.1,181.72 610.7,181.72 610.7,181.72 611.3,181.72 611.3,188.62 611.9,188.62 611.9,181.72 612.5,181.72 612.5,188.62 613.1,188.62 613.1,181.72 613.7,181.72 613.7,188.62 614.3,188.62 614.3,188.62 614.9,188.62 614.9,195.51 615.5,195.51 615.5,195.51 616.1,195.51 616.1,188.62 616.7,188.62 616.7,188.62 617.3,188.62 617.3,188.62 617.9,188.62 617.9,188.62 618.5,188.62 618.5,181.72 619.1,181.72 619.1,195.51 619.7,195.51 619.7,188.62 620.3,188.62 620.3,181.72 620.9,181.72 620.9,188.62 621.5,188.62 621.5,195.51 622.1,195.51 622.1,188.62 622.7,188.62 622.7,181.72 623.3,181.72 623.3,188.62 623.9,188.62 623.9,181.72 624.5,181.72 624.5,188.62 625.1,188.62 625.1,181.72 625.7,181.72 625.7,195.51 626.3,195.51 626.3,188.62 626.9,188.62 626.9,188.62 627.5,188.62 627.5,181.72 628.1,181.72 628.1,181.72 628.7,181.72 628.7,181.72 629.3,181.72 629.3,188.62 629.9,188.62 629.9,188.62 630.5,188.62 630.5,181.72 631.1,181.72 631.1,181.72 631.7,181.72 631.7,181.72 632.3,181.72 632.3,181.72 632.9,181.72 632.9,188.62 633.5,188.62 633.5,174.83 634.1,174.83 634.1,188.62 634.7,188.62 634.7,181.72 635.3,181.72 635.3,181.72 635.9,181.72 635.9,195.51 636.5,195.51 636.5,195.51 637.1,195.51 637.1,195.51 637.7,195.51 637.7,188.62 638.3,188.62 638.3,181.72 638.9,181.72 638.9,188.62 639.5,188.62 639.5,181.72 640.1,181.72 640.1,195.51 640.7,195.51 640.7,188.62 641.3,188.62 641.3,188.62 641.9,188.62 641.9,188.62 642.5,188.62 642.5,188.62 643.1,188.62 643.1,188.62 643.7,188.62 643.7,181.72 644.3,181.72 644.3,188.62 644.9,188.62 644.9,188.62 645.5,188.62 645.5,188.62 646.1,188.62 646.1,195.51 646.7,195.51 646.7,188.62 647.3,188.62 647.3,181.72 647.9,181.72 647.9,181.72 648.5,181.72 648.5,195.51 649.1,195.51 649.1,188.62 649.7,188.62 649.7,181.72 650.3,181.72 650.3,181.72 650.9,181.72 650.9,181.72 651.5,181.72 651.5,181.72 652.1,181.72 652.1,188.62 652.7,188.62 652.7,188.62 653.3,188.62 653.3,188.62 653.9,188.62 653.9,181.72 654.5,181.72 654.5,181.72 655.1,181.72 655.1,174.83 655.7,174.83 655.7,181.72 656.3,181.72 656.3,188.62 656.9,188.62 656.9,195.51 657.5,195.51 657.5,195.51 658.1,195.51 658.1,188.62 658.7,188.62 658.7,181.72 659.3,181.72 659.3,195.51 659.9,195.51 659.9,195.51 660.5,195.51 660.5,188.62 661.1,188.62 661.1,181.72 661.7,181.72 661.7,181.72 662.3,181.72 662.3,174.83 662.9,174.83 662.9,181.72 663.5,181.72 663.5,188.62 664.1,188.62 664.1,181.72 664.7,181.72 664.7,188.62 665.3,188.62 665.3,188.62 665.9,188.62 665.9,174.83 666.5,174.83 666.5,167.93 667.1,167.93 667.1,174.83 667.7,174.83 667.7,181.72 668.3,181.72 668.3,181.72 668.9,181.72 668.9,174.83 669.5,174.83 669.5,188.62 670.1,188.62 670.1,174.83 670.7,174.83 670.7,174.83 671.3,174.83 671.3,181.72 671.9,181.72 671.9,181.72 672.5,181.72 672.5,188.62 673.1,188.62 673.1,174.83 673.7,174.83 673.7,174.83 674.3,174.83 674.3,195.51 674.9,195.51 674.9,181.72 675.5,181.72 675.5,174.83 676.1,174.83 676.1,167.93 676.7,167.93 676.7,181.72 677.3,181.72 677.3,181.72 677.9,181.72 677.9,167.93 678.5,167.93 678.5,174.83 679.1,174.83 679.1,181.72 679.7,181.72 679.7,181.72 680.3,181.72 680.3,174.83 680.9,174.83 680.9,181.72 681.5,181.72 681.5,167.93 682.1,167.93 682.1,181.72 682.7,181.72 682.7,167.93 683.3,167.93 683.3,167.93 683.9,167.93 683.9,167.93 684.5,167.93 684.5,167.93 685.1,167.93 685.1,167.93 685.7,167.93 685.7,167.93 686.3,167.93 686.3,167.93 686.9,167.93 686.9,167.93 687.5,167.93 687.5,174.83 688.1,174.83 688.1,161.04 688.7,161.04 688.7,154.14 689.3,154.14 689.3,174.83 689.9,174.83 689.9,167.93 690.5,167.93 690.5,174.83 691.1,174.83 691.1,167.93 691.7,167.93 691.7,167.93 692.3,167.93 692.3,174.83 692.9,174.83 692.9,174.83 693.5,174.83 693.5,174.83 694.1,174.83 694.1,161.04 694.7,161.04 694.7,161.04 695.3,161.04 695.3,174.83 695.9,174.83 695.9,174.83 696.5,174.83 696.5,174.83 697.1,174.83 697.1,181.72 697.7,181.72 697.7,181.72 698.3,181.72 698.3,181.72 698.9,181.72 698.9,174.83 699.5,174.83 699.5,174.83 700.1,174.83 700.1,174.83 700.7,174.83 700.7,181.72 701.3,181.72 701.3,188.62 701.9,188.62 701.9,174.83 702.5,174.83 702.5,181.72 703.1,181.72 703.1,167.93 703.7,167.93 703.7,181.72 704.3,181.72 704.3,174.83 704.9,174.83 704.9,174.83 705.5,174.83 705.5,181.72 706.1,181.72 706.1,181.72 706.7,181.72 706.7,167.93 707.3,167.93 707.3,174.83 707.9,174.83 707.9,181.72 708.5,181.72 708.5,174.83 709.1,174.83 709.1,188.62 709.7,188.62 709.7,167.93 710.3,167.93 710.3,167.93 710.9,167.93 710.9,181.72 711.5,181.72 711.5,174.83 712.1,174.83 712.1,195.51 712.7,195.51 712.7,174.83 713.3,174.83 713.3,174.83 713.9,174.83 713.9,174.83 714.5,174.83 714.5,174.83 715.1,174.83 715.1,174.83 715.7,174.83 715.7,181.72 716.3,181.72 716.3,181.72 716.9,181.72 716.9,181.72 717.5,181.72 717.5,174.83 718.1,174.83 718.1,174.83 718.7,174.83 718.7,181.72 719.3,181.72 719.3,174.83 719.9,174.83 719.9,181.72 720.5,181.72 720.5,167.93 721.1,167.93 721.1,174.83 721.7,174.83 721.7,181.72 722.3,181.72 722.3,174.83 722.9,174.83 722.9,167.93 723.5,167.93 723.5,174.83 724.1,174.83 724.1,167.93 724.7,167.93 724.7,181.72 725.3,181.72 725.3,167.93 725.9,167.93 725.9,174.83 726.5,174.83 726.5,167.93 727.1,167.93 727.1,167.93 727.7,167.93 727.7,181.72 728.3,181.72 728.3,181.72 728.9,181.72 728.9,174.83 729.5,174.83 729.5,181.72 730.1,181.72 730.1,181.72 730.7,181.72 730.7,174.83 731.3,174.83 731.3,167.93 731.9,167.93 731.9,174.83 732.5,174.83 732.5,174.83 733.1,174.83 733.1,154.14 733.7,154.14 733.7,174.83 734.3,174.83 734.3,174.83 734.9,174.83 734.9,174.83 735.5,174.83 735.5,167.93 736.1,167.93 736.1,174.83 736.7,174.83 736.7,167.93 737.3,167.93 737.3,174.83 737.9,174.83 737.9,167.93 738.5,167.93 738.5,174.83 739.1,174.83 739.1,174.83 739.7,174.83 739.7,174.83 740.3,174.83 740.3,181.72 740.9,181.72 740.9,174.83 741.5,174.83 741.5,174.83 742.1,174.83 742.1,167.93 742.7,167.93 742.7,174.83 743.3,174.83 743.3,174.83 743.9,174.83 743.9,161.04 744.5,161.04 744.5,167.93 745.1,167.93 745.1,167.93 745.7,167.93 745.7,174.83 746.3,174.83 746.3,167.93 746.9,167.93 746.9,167.93 747.5,167.93 747.5,167.93 748.1,167.93 748.1,174.83 748.7,174.83 748.7,167.93 749.3,167.93 749.3,174.83 749.9,174.83 749.9,181.72 750.5,181.72 750.5,181.72 751.1,181.72 751.1,167.93 751.7,167.93 751.7,174.83 752.3,174.83 752.3,167.93 752.9,167.93 752.9,167.93 753.5,167.93 753.5,161.04 754.1,161.04 754.1,167.93 754.7,167.93 754.7,167.93 755.3,167.93 755.3,167.93 755.9,167.93 755.9,174.83 756.5,174.83 756.5,174.83 757.1,174.83 757.1,174.83 757.7,174.83 757.7,167.93 758.3,167.93 758.3,174.83 758.9,174.83 758.9,167.93 759.5,167.93 759.5,167.93 760.1,167.93 760.1,181.72 760.7,181.72 760.7,174.83 761.3,174.83 761.3,174.83 761.9,174.83 761.9,167.93 762.5,167.93 762.5,174.83 763.1,174.83 763.1,167.93 763.7,167.93 763.7,154.14 764.3,154.14 764.3,174.83 764.9,174.83 764.9,167.93 765.5,167.93 765.5,167.93 766.1,167.93 766.1,167.93 766.7,167.93 766.7,167.93 767.3,167.93 767.3,161.04 767.9,161.04 767.9,174.83 768.5,174.83 768.5,167.93 769.1,167.93 769.1,167.93 769.7,167.93 769.7,167.93 770.3,167.93 770.3,161.04 770.9,161.04 770.9,161.04 771.5,161.04 771.5,154.14 772.1,154.14 772.1,161.04 772.7,161.04 772.7,154.14 773.3,154.14 773.3,161.04 773.9,161.04 773.9,161.04 774.5,161.04 774.5,161.04 775.1,161.04 775.1,154.14 775.7,154.14 775.7,161.04 776.3,161.04 776.3,161.04 776.9,161.04 776.9,161.04 777.5,161.04 777.5,167.93 778.1,167.93 778.1,154.14 778.7,154.14 778.7,154.14 779.3,154.14 779.3,167.93 779.9,167.93 779.9,154.14 780.5,154.14 780.5,161.04 781.1,161.04 781.1,167.93 781.7,167.93 781.7,161.04 782.3,161.04 782.3,154.14 782.9,154.14 782.9,154.14 783.5,154.14 783.5,154.14 784.1,154.14 784.1,147.25 784.7,147.25 784.7,154.14 785.3,154.14 785.3,161.04 785.9,161.04 785.9,167.93 786.5,167.93 786.5,154.14 787.1,154.14 787.1,161.04 787.7,161.04 787.7,161.04 788.3,161.04 788.3,161.04 788.9,161.04 788.9,161.04 789.5,161.04 789.5,161.04 790.1,161.04 790.1,154.14 790.7,154.14 790.7,154.14 791.3,154.14 791.3,154.14 791.9,154.14 791.9,154.14 792.5,154.14 792.5,161.04 793.1,161.04 793.1,161.04 793.7,161.04 793.7,154.14 794.3,154.14 794.3,167.93 794.9,167.93 794.9,154.14 795.5,154.14 795.5,154.14 796.1,154.14 796.1,154.14 796.7,154.14 796.7,161.04 797.3,161.04 797.3,161.04 797.9,161.04 797.9,154.14 798.5,154.14 798.5,161.04 799.1,161.04 799.1,154.14 799.7,154.14 799.7,154.14 800.3,154.14 800.3,147.25 800.9,147.25 800.9,154.14 801.5,154.14 801.5,140.35 802.1,140.35 802.1,133.46 802.7,133.46 802.7,140.35 803.3,140.35 803.3,147.25 803.9,147.25 803.9,147.25 804.5,147.25 804.5,133.46 805.1,133.46 805.1,140.35 805.7,140.35 805.7,140.35 806.3,140.35 806.3,140.35 806.9,140.35 806.9,147.25 807.5,147.25 807.5,133.46 808.1,133.46 808.1,140.35 808.7,140.35 808.7,140.35 809.3,140.35 809.3,147.25 809.9,147.25 809.9,126.56 810.5,126.56 810.5,133.46 811.1,133.46 811.1,140.35 811.7,140.35 811.7,140.35 812.3,140.35 812.3,140.35 812.9,140.35 812.9,147.25 813.5,147.25 813.5,133.46 814.1,133.46 814.1,140.35 814.7,140.35 814.7,133.46 815.3,133.46 815.3,133.46 815.9,133.46 815.9,126.56 816.5,126.56 816.5,133.46 817.1,133.46 817.1,133.46 817.7,133.46 817.7,133.46 818.3,133.46 818.3,133.46 818.9,133.46 818.9,133.46 819.5,133.46 819.5,133.46 820.1,133.46 820.1,126.56 820.7,126.56 820.7,126.56 821.3,126.56 821.3,133.46 821.9,133.46 821.9,126.56 822.5,126.56 822.5,133.46 823.1,133.46 823.1,140.35 823.7,140.35 823.7,119.67 824.3,119.67 824.3,133.46 824.9,133.46 824.9,133.46 825.5,133.46 825.5,133.46 826.1,133.46 826.1,133.46 826.7,133.46 826.7,119.67 827.3,119.67 827.3,126.56 827.9,126.56 827.9,119.67 828.5,119.67 828.5,126.56 829.1,126.56 829.1,119.67 829.7,119.67 829.7,126.56 830.3,126.56 830.3,126.56 830.9,126.56 830.9,126.56 831.5,126.56 831.5,126.56 832.1,126.56 832.1,133.46 832.7,133.46 832.7,133.46 833.3,133.46 833.3,126.56 833.9,126.56 833.9,119.67 834.5,119.67 834.5,126.56 835.1,126.56 835.1,126.56 835.7,126.56 835.7,126.56 836.3,126.56 836.3,119.67 836.9,119.67 836.9,119.67 837.5,119.67 837.5,126.56 838.1,126.56 838.1,119.67 838.7,119.67 838.7,126.56 839.3,126.56 839.3,126.56 839.9,126.56 839.9,112.77 840.5,112.77 840.5,112.77 841.1,112.77 841.1,119.67 841.7,119.67 841.7,112.77 842.3,112.77 842.3,119.67 842.9,119.67 842.9,112.77 843.5,112.77 843.5,105.88 844.1,105.88 844.1,119.67 844.7,119.67 844.7,112.77 845.3,112.77 845.3,119.67 845.9,119.67 845.9,112.77 846.5,112.77 846.5,105.88 847.1,105.88 847.1,119.67 847.7,119.67 847.7,112.77 848.3,112.77 848.3,112.77 848.9,112.77 848.9,98.98 849.5,98.98 849.5,112.77 850.1,112.77 850.1,112.77 850.7,112.77 850.7,105.88 851.3,105.88 851.3,98.98 851.9,98.98 851.9,112.77 852.5,112.77 852.5,105.88 853.1,105.88 853.1,98.98 853.7,98.98 853.7,105.88 854.3,105.88 854.3,105.88 854.9,105.88 854.9,98.98 855.5,98.98 855.5,112.77 856.1,112.77 856.1,92.09 856.7,92.09 856.7,98.98 857.3,98.98 857.3,105.88 857.9,105.88 857.9,98.98 858.5,98.98 858.5,98.98 859.1,98.98 859.1,98.98 859.7,98.98 859.7,98.98 860.3,98.98 860.3,92.09 860.9,92.09 860.9,105.88 861.5,105.88 861.5,71.4 862.1,71.4 862.1,92.09 862.7,92.09 862.7,85.19 863.3,85.19 863.3,85.19 863.9,85.19 863.9,64.51 864.5,64.51 864.5,71.4 865.1,71.4 865.1,50.72 865.7,50.72 865.7,71.4 866.3,71.4 866.3,64.51 866.9,64.51 866.9,64.51 867.5,64.51 867.5,64.51 868.1,64.51 868.1,50.72 868.7,50.72 868.7,50.72 869.3,50.72 869.3,50.72 869.9,50.72 869.9,78.3 870.5,78.3 870.5,64.51 871.1,64.51 871.1,78.3 871.7,78.3 871.7,85.19 872.3,85.19 872.3,92.09 872.9,92.09 872.9,85.19 873.5,85.19 873.5,71.4 874.1,71.4 874.1,64.51 874.7,64.51 874.7,64.51 875.3,64.51 875.3,92.09 875.9,92.09 875.9,92.09 876.5,92.09 876.5,85.19 877.1,85.19 877.1,85.19 877.7,85.19 877.7,85.19 878.3,85.19 878.3,105.88 878.9,105.88 878.9,92.09 879.5,92.09 879.5,85.19 880.1,85.19 880.1,92.09 880.7,92.09 880.7,92.09 881.3,92.09 881.3,98.98 881.9,98.98 881.9,92.09 882.5,92.09 882.5,78.3 883.1,78.3 883.1,85.19 883.7,85.19 883.7,85.19 884.3,85.19 884.3,78.3 884.9,78.3 884.9,98.98 885.5,98.98 885.5,85.19 886.1,85.19 886.1,85.19 886.7,85.19 886.7,85.19 887.3,85.19 887.3,92.09 887.9,92.09 887.9,92.09 888.5,92.09 888.5,98.98 889.1,98.98 889.1,92.09 889.7,92.09 889.7,92.09 890.3,92.09 890.3,92.09 890.9,92.09 890.9,92.09 891.5,92.09 891.5,92.09 892.1,92.09 892.1,98.98 892.7,98.98 892.7,92.09 893.3,92.09 893.3,98.98 893.9,98.98 893.9,92.09 894.5,92.09 894.5,85.19 895.1,85.19 895.1,92.09 895.7,92.09 895.7,112.77 896.3,112.77 896.3,85.19 896.9,85.19 896.9,92.09 897.5,92.09 897.5,98.98 898.1,98.98 898.1,92.09 898.7,92.09 898.7,78.3 899.3,78.3 899.3,105.88 899.9,105.88 899.9,98.98 900.5,98.98 900.5,92.09 901.1,92.09 901.1,112.77 901.7,112.77 901.7,98.98 902.3,98.98 902.3,85.19 902.9,85.19 902.9,85.19 903.5,85.19 903.5,92.09 904.1,92.09 904.1,92.09 904.7,92.09 904.7,92.09 905.3,92.09 905.3,71.4 905.9,71.4 905.9,92.09 906.5,92.09 906.5,85.19 907.1,85.19 907.1,98.98 907.7,98.98 907.7,92.09 908.3,92.09 908.3,92.09 908.9,92.09 908.9,92.09 909.5,92.09 909.5,105.88 910.1,105.88 910.1,98.98 910.7,98.98 910.7,78.3 911.3,78.3 911.3,85.19 911.9,85.19 911.9,98.98 912.5,98.98 912.5,85.19 913.1,85.19 913.1,105.88 913.7,105.88 913.7,85.19 914.3,85.19 914.3,92.09 914.9,92.09 914.9,98.98 915.5,98.98 915.5,98.98 916.1,98.98 916.1,105.88 916.7,105.88 916.7,92.09 917.3,92.09 917.3,78.3 917.9,78.3 917.9,85.19 918.5,85.19 918.5,92.09 919.1,92.09 919.1,85.19 919.7,85.19 919.7,98.98 920.3,98.98 920.3,85.19 920.9,85.19 920.9,112.77 921.5,112.77 921.5,98.98 922.1,98.98 922.1,98.98 922.7,98.98 922.7,92.09 923.3,92.09 923.3,92.09 923.9,92.09 923.9,85.19 924.5,85.19 924.5,98.98 925.1,98.98 925.1,85.19 925.7,85.19 925.7,92.09 926.3,92.09 926.3,85.19 926.9,85.19 926.9,92.09 927.5,92.09 927.5,85.19 928.1,85.19 928.1,92.09 928.7,92.09 928.7,98.98 929.3,98.98 929.3,92.09 929.9,92.09 929.9,105.88 930.5,105.88 930.5,92.09 931.1,92.09 931.1,92.09 931.7,92.09 931.7,92.09 932.3,92.09 932.3,92.09 932.9,92.09 932.9,85.19 933.5,85.19 933.5,85.19 934.1,85.19 934.1,85.19 934.7,85.19 934.7,98.98 935.3,98.98 935.3,98.98 935.9,98.98 935.9,85.19 936.5,85.19 936.5,85.19 937.1,85.19 937.1,105.88 937.7,105.88 937.7,78.3 938.3,78.3 938.3,85.19 938.9,85.19 938.9,98.98 939.5,98.98 939.5,85.19 940.1,85.19 940.1,98.98 940.7,98.98 940.7,92.09 941.3,92.09 941.3,98.98 941.9,98.98 941.9,98.98 942.5,98.98 942.5,92.09 943.1,92.09 943.1,92.09 943.7,92.09 943.7,98.98 944.3,98.98 944.3,92.09 944.9,92.09 944.9,98.98 945.5,98.98 945.5,98.98 946.1,98.98 946.1,98.98 946.7,98.98 946.7,98.98 947.3,98.98 947.3,78.3 947.9,78.3 947.9,105.88 948.5,105.88 948.5,98.98 949.1,98.98 949.1,92.09 949.7,92.09 949.7,98.98 950.3,98.98 950.3,98.98 950.9,98.98 950.9,92.09 951.5,92.09 951.5,98.98 952.1,98.98 952.1,92.09 952.7,92.09 952.7,85.19 953.3,85.19 953.3,85.19 953.9,85.19 953.9,92.09 954.5,92.09 954.5,92.09 955.1,92.09 955.1,92.09 955.7,92.09 955.7,85.19 956.3,85.19 956.3,98.98 956.9,98.98 956.9,85.19 957.5,85.19 957.5,85.19 958.1,85.19 958.1,78.3 958.7,78.3 958.7,85.19 959.3,85.19 959.3,85.19 959.9,85.19 959.9,112.77 960.5,112.77 960.5,98.98 961.1,98.98 961.1,78.3 961.7,78.3 961.7,92.09 962.3,92.09 962.3,98.98 962.9,98.98 962.9,85.19 963.5,85.19 963.5,92.09 964.1,92.09 964.1,92.09 964.7,92.09 964.7,98.98 965.3,98.98 965.3,85.19 965.9,85.19 965.9,78.3 966.5,78.3 966.5,92.09 967.1,92.09 967.1,92.09 967.7,92.09 967.7,98.98 968.3,98.98 968.3,92.09 968.9,92.09 968.9,98.98 969.5,98.98 969.5,105.88 970.1,105.88 970.1,98.98 970.7,98.98 970.7,92.09 971.3,92.09 971.3,85.19 971.9,85.19 971.9,85.19 972.5,85.19 972.5,92.09 973.1,92.09 973.1,92.09 973.7,92.09 973.7,85.19 974.3,85.19 974.3,98.98 974.9,98.98 974.9,92.09 975.5,92.09 975.5,92.09 976.1,92.09 976.1,92.09 976.7,92.09 976.7,98.98 977.3,98.98 977.3,78.3 977.9,78.3 977.9,85.19 978.5,85.19 978.5,92.09 979.1,92.09 979.1,105.88 979.7,105.88 979.7,98.98 980.3,98.98 980.3,85.19 980.9,85.19 980.9,105.88 981.5,105.88 981.5,71.4 982.1,71.4 982.1,92.09 982.7,92.09 982.7,92.09 983.3,92.09 983.3,85.19 983.9,85.19 983.9,105.88 984.5,105.88 984.5,92.09 985.1,92.09 985.1,92.09 985.7,92.09 985.7,85.19 986.3,85.19 986.3,98.98 986.9,98.98 986.9,85.19 987.5,85.19 987.5,85.19 988.1,85.19 988.1,92.09 988.7,92.09 988.7,98.98 989.3,98.98 989.3,98.98 989.9,98.98 989.9,105.88 990.5,105.88 990.5,98.98 991.1,98.98 991.1,92.09 991.7,92.09 991.7,78.3" fill="none" stroke="#0000ff" stroke-width="0.7"/></g>
<g stroke-width="1" fill="none"><path d="M77.5 212.2V202.4M77.5 44.3V54.1" stroke="#383838"/><path d="M208.5 212.2V202.4M208.5 44.3V54.1" stroke="#383838"/><path d="M340.5 212.2V202.4M340.5 44.3V54.1" stroke="#383838"/><path d="M473.5 212.2V202.4M473.5 44.3V54.1" stroke="#383838"/><path d="M605.5 212.2V202.4M605.5 44.3V54.1" stroke="#383838"/><path d="M737.5 212.2V202.4M737.5 44.3V54.1" stroke="#383838"/><path d="M869.5 212.2V202.4M869.5 44.3V54.1" stroke="#383838"/><path d="M1002.5 212.2V202.4M1002.5 44.3V54.1" stroke="#383838"/><path d="M77 71.5H86.8M1009.7 71.5H999.9" stroke="#8a8a8a"/><path d="M77 106.5H86.8M1009.7 106.5H999.9" stroke="#8a8a8a"/><path d="M77 141.5H86.8M1009.7 141.5H999.9" stroke="#383838"/><path d="M77 175.5H86.8M1009.7 175.5H999.9" stroke="#8a8a8a"/><path d="M77 209.5H86.8M1009.7 209.5H999.9" stroke="#383838"/></g>
<g fill="none">
<line x1="77" y1="43.8" x2="77" y2="212.7" stroke="#505050" stroke-width="1.6"/>
<line x1="77" y1="44.5" x2="1009.7" y2="44.5" stroke="#909090" stroke-width="1"/>
<line x1="1009.6" y1="44.3" x2="1009.6" y2="212.2" stroke="#909090" stroke-width="1"/>
<line x1="76.5" y1="212.3" x2="1010.2" y2="212.3" stroke="#404040" stroke-width="1.3"/>
</g>
<g font-family='"Liberation Sans", Arial, Helvetica, sans-serif' font-size="18.8" fill="#000" text-anchor="middle"><text x="77.9" y="233.4">10</text><text x="209" y="233.4">12</text><text x="340.9" y="233.4">14</text><text x="474.1" y="233.4">16</text><text x="605.9" y="233.4">18</text><text x="737.9" y="233.4">20</text><text x="869.6" y="233.4">22</text><text x="1002.9" y="233.4">24</text></g>
<g font-family='"Liberation Sans", Arial, Helvetica, sans-serif' font-size="18.8" fill="#000" text-anchor="end"><text x="71.6" y="76.5">58.2</text><text x="71.6" y="111.4">58.15</text><text x="71.6" y="146.4">58.1</text><text x="71.6" y="181">58.05</text><text x="71.6" y="214.4">58</text></g>
<text x="257.6" y="26.4" font-family='"Liberation Sans", Arial, Helvetica, sans-serif' font-size="32.4" fill="#000" textLength="558.8" lengthAdjust="spacingAndGlyphs">Z-axis Q-flex accelerometer temperature</text>
<text x="522.9" y="257.9" font-family='"Liberation Sans", Arial, Helvetica, sans-serif' font-size="18.8" fill="#000">hour</text>
<g stroke-width="1" stroke-dasharray="12.2 11.75" fill="none"><line x1="210.5" y1="481" x2="210.5" y2="313.6" stroke="#383838"/><line x1="343.5" y1="481" x2="343.5" y2="313.6" stroke="#383838"/><line x1="476.5" y1="481" x2="476.5" y2="313.6" stroke="#8a8a8a"/><line x1="609.5" y1="481" x2="609.5" y2="313.6" stroke="#8a8a8a"/><line x1="743.5" y1="481" x2="743.5" y2="313.6" stroke="#383838"/><line x1="876.5" y1="481" x2="876.5" y2="313.6" stroke="#8a8a8a"/><line x1="77.1" y1="345.5" x2="1009.6" y2="345.5" stroke="#383838"/><line x1="77.1" y1="384.5" x2="1009.6" y2="384.5" stroke="#8a8a8a"/><line x1="77.1" y1="423.5" x2="1009.6" y2="423.5" stroke="#8a8a8a"/><line x1="77.1" y1="462.5" x2="1009.6" y2="462.5" stroke="#383838"/></g>
<polyline points="77,456 80.5,456 80.5,458.45 81,458.45 81,456 84,456 84,458.45 89.5,458.45 89.5,456 90,456 90,453.55 96,453.55 96,451.1 98,451.1 98,448.65 99,448.65 99,451.1 99.5,451.1 99.5,448.65 102.5,448.65 102.5,446.2 103,446.2 103,448.65 104,448.65 104,446.2 108.5,446.2 108.5,443.75 110,443.75 110,446.2 111,446.2 111,443.75 115.5,443.75 115.5,441.3 116.5,441.3 116.5,443.75 117,443.75 117,441.3 123,441.3 123,438.85 123.5,438.85 123.5,441.3 124,441.3 124,438.85 126,438.85 126,436.4 128.5,436.4 128.5,438.85 129,438.85 129,436.4 133,436.4 133,433.95 133.5,433.95 133.5,436.4 134.5,436.4 134.5,433.95 138.5,433.95 138.5,431.5 139.5,431.5 139.5,433.95 140,433.95 140,431.5 140.5,431.5 140.5,433.95 141,433.95 141,431.5 141.5,431.5 141.5,433.95 142,433.95 142,431.5 146.5,431.5 146.5,429.05 147,429.05 147,431.5 147.5,431.5 147.5,429.05 153,429.05 153,426.6 158.5,426.6 158.5,424.15 159,424.15 159,426.6 159.5,426.6 159.5,424.15 164,424.15 164,421.7 165,421.7 165,424.15 165.5,424.15 165.5,421.7 171.5,421.7 171.5,419.25 176,419.25 176,416.8 176.5,416.8 176.5,419.25 177,419.25 177,416.8 180,416.8 180,414.35 181,414.35 181,416.8 181.5,416.8 181.5,414.35 182.5,414.35 182.5,416.8 183,416.8 183,414.35 191.5,414.35 191.5,411.9 192,411.9 192,414.35 192.5,414.35 192.5,411.9 193,411.9 193,414.35 194.5,414.35 194.5,411.9 200,411.9 200,409.45 203,409.45 203,411.9 203.5,411.9 203.5,409.45 209,409.45 209,407 209.5,407 209.5,409.45 210,409.45 210,407 210.5,407 210.5,409.45 211,409.45 211,407 213,407 213,409.45 214,409.45 214,407 215.5,407 215.5,404.55 216,404.55 216,407 217.5,407 217.5,404.55 218,404.55 218,407 219.5,407 219.5,404.55 220.5,404.55 220.5,407 221,407 221,404.55 225.5,404.55 225.5,402.1 227,402.1 227,404.55 227.5,404.55 227.5,402.1 235,402.1 235,399.65 235.5,399.65 235.5,402.1 236,402.1 236,399.65 236.5,399.65 236.5,402.1 237,402.1 237,399.65 238,399.65 238,402.1 238.5,402.1 238.5,399.65 243,399.65 243,397.2 243.5,397.2 243.5,399.65 244,399.65 244,397.2 245,397.2 245,399.65 245.5,399.65 245.5,397.2 246.5,397.2 246.5,399.65 247,399.65 247,397.2 258,397.2 258,394.75 262.5,394.75 262.5,392.3 264,392.3 264,394.75 265,394.75 265,392.3 270.5,392.3 270.5,389.85 276,389.85 276,387.4 277,387.4 277,389.85 279.5,389.85 279.5,387.4 280.5,387.4 280.5,389.85 281.5,389.85 281.5,387.4 282,387.4 282,389.85 283.5,389.85 283.5,387.4 285,387.4 285,389.85 285.5,389.85 285.5,387.4 287.5,387.4 287.5,384.95 288.5,384.95 288.5,387.4 289,387.4 289,384.95 289.5,384.95 289.5,387.4 290,387.4 290,384.95 296,384.95 296,382.5 299.5,382.5 299.5,380.05 303,380.05 303,377.6 306.5,377.6 306.5,375.15 307,375.15 307,377.6 307.5,377.6 307.5,375.15 309,375.15 309,377.6 309.5,377.6 309.5,375.15 314.5,375.15 314.5,372.7 316,372.7 316,375.15 316.5,375.15 316.5,372.7 319,372.7 319,375.15 319.5,375.15 319.5,372.7 335,372.7 335,375.15 335.5,375.15 335.5,372.7 346,372.7 346,375.15 351,375.15 351,377.6 351.5,377.6 351.5,375.15 352,375.15 352,377.6 354.5,377.6 354.5,375.15 355,375.15 355,377.6 360.5,377.6 360.5,380.05 361.5,380.05 361.5,377.6 362.5,377.6 362.5,380.05 363.5,380.05 363.5,377.6 364,377.6 364,380.05 364.5,380.05 364.5,377.6 365.5,377.6 365.5,380.05 367.5,380.05 367.5,382.5 368.5,382.5 368.5,380.05 370.5,380.05 370.5,382.5 381.5,382.5 381.5,384.95 384.5,384.95 384.5,382.5 385,382.5 385,384.95 386,384.95 386,387.4 392.5,387.4 392.5,389.85 393,389.85 393,387.4 393.5,387.4 393.5,389.85 394,389.85 394,387.4 394.5,387.4 394.5,389.85 401,389.85 401,392.3 401.5,392.3 401.5,389.85 402,389.85 402,392.3 402.5,392.3 402.5,389.85 403.5,389.85 403.5,392.3 408.5,392.3 408.5,394.75 417,394.75 417,397.2 417.5,397.2 417.5,394.75 418,394.75 418,397.2 418.5,397.2 418.5,394.75 419,394.75 419,397.2 424.5,397.2 424.5,399.65 429,399.65 429,402.1 429.5,402.1 429.5,399.65 430,399.65 430,402.1 432,402.1 432,399.65 432.5,399.65 432.5,402.1 435.5,402.1 435.5,404.55 436,404.55 436,402.1 436.5,402.1 436.5,404.55 438,404.55 438,402.1 438.5,402.1 438.5,404.55 440,404.55 440,407 440.5,407 440.5,404.55 442,404.55 442,407 448.5,407 448.5,409.45 454.5,409.45 454.5,411.9 456,411.9 456,414.35 456.5,414.35 456.5,411.9 457.5,411.9 457.5,414.35 458.5,414.35 458.5,411.9 459,411.9 459,414.35 463,414.35 463,416.8 463.5,416.8 463.5,414.35 465,414.35 465,416.8 471,416.8 471,419.25 479,419.25 479,421.7 480,421.7 480,424.15 480.5,424.15 480.5,421.7 483.5,421.7 483.5,424.15 484,424.15 484,421.7 484.5,421.7 484.5,424.15 485.5,424.15 485.5,421.7 486.5,421.7 486.5,424.15 490.5,424.15 490.5,426.6 491.5,426.6 491.5,424.15 492,424.15 492,426.6 496,426.6 496,429.05 496.5,429.05 496.5,426.6 497,426.6 497,429.05 502,429.05 502,431.5 502.5,431.5 502.5,429.05 504,429.05 504,431.5 507.5,431.5 507.5,433.95 508,433.95 508,431.5 509.5,431.5 509.5,433.95 513,433.95 513,436.4 513.5,436.4 513.5,433.95 514,433.95 514,436.4 514.5,436.4 514.5,433.95 515,433.95 515,436.4 520.5,436.4 520.5,438.85 521,438.85 521,436.4 521.5,436.4 521.5,438.85 527,438.85 527,441.3 528.5,441.3 528.5,438.85 529,438.85 529,441.3 531,441.3 531,438.85 531.5,438.85 531.5,441.3 537,441.3 537,443.75 542,443.75 542,446.2 542.5,446.2 542.5,443.75 543.5,443.75 543.5,446.2 544.5,446.2 544.5,443.75 545,443.75 545,446.2 553,446.2 553,448.65 555,448.65 555,451.1 555.5,451.1 555.5,448.65 556,448.65 556,451.1 558,451.1 558,448.65 558.5,448.65 558.5,451.1 562.5,451.1 562.5,453.55 563,453.55 563,451.1 563.5,451.1 563.5,453.55 564,453.55 564,451.1 564.5,451.1 564.5,453.55 565,453.55 565,451.1 569,451.1 569,453.55 569.5,453.55 569.5,451.1 570,451.1 570,453.55 570.5,453.55 570.5,451.1 572,451.1 572,453.55 572.5,453.55 572.5,451.1 575,451.1 575,453.55 575.5,453.55 575.5,451.1 577.5,451.1 577.5,453.55 578,453.55 578,451.1 578.5,451.1 578.5,453.55 590,453.55 590,456 590.5,456 590.5,453.55 591,453.55 591,456 591.5,456 591.5,453.55 593.5,453.55 593.5,456 595.5,456 595.5,453.55 596,453.55 596,456 596.5,456 596.5,453.55 597,453.55 597,456 598.5,456 598.5,453.55 599,453.55 599,456 600.5,456 600.5,453.55 601,453.55 601,456 601.5,456 601.5,453.55 602,453.55 602,456 603.5,456 603.5,453.55 604,453.55 604,456 609.5,456 609.5,453.55 610,453.55 610,456 611.5,456 611.5,458.45 612,458.45 612,456 613,456 613,458.45 614,458.45 614,456 615,456 615,458.45 615.5,458.45 615.5,456 616,456 616,458.45 616.5,458.45 616.5,456 617,456 617,458.45 625.5,458.45 625.5,460.9 626.5,460.9 626.5,458.45 627.5,458.45 627.5,460.9 628,460.9 628,458.45 631,458.45 631,460.9 634.5,460.9 634.5,463.35 635,463.35 635,460.9 638,460.9 638,463.35 638.5,463.35 638.5,460.9 639,460.9 639,463.35 639.5,463.35 639.5,460.9 642.5,460.9 642.5,463.35 643,463.35 643,460.9 645.5,460.9 645.5,463.35 646.5,463.35 646.5,460.9 647.5,460.9 647.5,463.35 648,463.35 648,460.9 649,460.9 649,463.35 650.5,463.35 650.5,460.9 651.5,460.9 651.5,463.35 652,463.35 652,460.9 655,460.9 655,463.35 655.5,463.35 655.5,460.9 657.5,460.9 657.5,463.35 658,463.35 658,460.9 665,460.9 665,463.35 665.5,463.35 665.5,460.9 671,460.9 671,458.45 675.5,458.45 675.5,456 679,456 679,453.55 680.5,453.55 680.5,456 681,456 681,453.55 685.5,453.55 685.5,451.1 688.5,451.1 688.5,448.65 689,448.65 689,451.1 690,451.1 690,448.65 694.5,448.65 694.5,446.2 698,446.2 698,443.75 698.5,443.75 698.5,446.2 699.5,446.2 699.5,443.75 701.5,443.75 701.5,441.3 702,441.3 702,443.75 703,443.75 703,441.3 703.5,441.3 703.5,443.75 704.5,443.75 704.5,441.3 705.5,441.3 705.5,443.75 706,443.75 706,441.3 709,441.3 709,438.85 714,438.85 714,436.4 719.5,436.4 719.5,433.95 720,433.95 720,436.4 721,436.4 721,433.95 722.5,433.95 722.5,431.5 723,431.5 723,433.95 723.5,433.95 723.5,431.5 724,431.5 724,433.95 724.5,433.95 724.5,431.5 725,431.5 725,433.95 725.5,433.95 725.5,431.5 729.5,431.5 729.5,429.05 733,429.05 733,426.6 733.5,426.6 733.5,429.05 734,429.05 734,426.6 734.5,426.6 734.5,429.05 735,429.05 735,426.6 738.5,426.6 738.5,424.15 739,424.15 739,426.6 740,426.6 740,424.15 742,424.15 742,426.6 742.5,426.6 742.5,424.15 744,424.15 744,421.7 744.5,421.7 744.5,424.15 745,424.15 745,421.7 750,421.7 750,419.25 754.5,419.25 754.5,416.8 755.5,416.8 755.5,419.25 756,419.25 756,416.8 758.5,416.8 758.5,414.35 759,414.35 759,416.8 760,416.8 760,414.35 765.5,414.35 765.5,411.9 766.5,411.9 766.5,414.35 767.5,414.35 767.5,411.9 768,411.9 768,414.35 768.5,414.35 768.5,411.9 771,411.9 771,409.45 773,409.45 773,411.9 773.5,411.9 773.5,409.45 776.5,409.45 776.5,407 779.5,407 779.5,404.55 781,404.55 781,407 781.5,407 781.5,404.55 783,404.55 783,402.1 785.5,402.1 785.5,399.65 788.5,399.65 788.5,397.2 789.5,397.2 789.5,399.65 790.5,399.65 790.5,397.2 794,397.2 794,394.75 796.5,394.75 796.5,392.3 797,392.3 797,394.75 797.5,394.75 797.5,392.3 798,392.3 798,394.75 799,394.75 799,392.3 803,392.3 803,389.85 803.5,389.85 803.5,392.3 804,392.3 804,389.85 804.5,389.85 804.5,387.4 805,387.4 805,389.85 806,389.85 806,387.4 808,387.4 808,384.95 811.5,384.95 811.5,382.5 812,382.5 812,384.95 812.5,384.95 812.5,382.5 815.5,382.5 815.5,380.05 819,380.05 819,377.6 819.5,377.6 819.5,380.05 820,380.05 820,377.6 820.5,377.6 820.5,380.05 821.5,380.05 821.5,377.6 823.5,377.6 823.5,375.15 827,375.15 827,372.7 827.5,372.7 827.5,375.15 829,375.15 829,372.7 831.5,372.7 831.5,370.25 832,370.25 832,372.7 833,372.7 833,370.25 836,370.25 836,367.8 840.5,367.8 840.5,365.35 842.5,365.35 842.5,362.9 843.5,362.9 843.5,365.35 844,365.35 844,360.45 844.5,360.45 844.5,362.9 845.5,362.9 845.5,360.45 846,360.45 846,362.9 846.5,362.9 846.5,360.45 850.5,360.45 850.5,358 851,358 851,360.45 851.5,360.45 851.5,358 853,358 853,355.55 853.5,355.55 853.5,358 854,358 854,355.55 855,355.55 855,358 855.5,358 855.5,355.55 858.5,355.55 858.5,353.1 859.5,353.1 859.5,355.55 860,355.55 860,353.1 862,353.1 862,350.65 862.5,350.65 862.5,353.1 863,353.1 863,350.65 865.5,350.65 865.5,348.2 868.5,348.2 868.5,345.75 869,345.75 869,348.2 870,348.2 870,345.75 872,345.75 872,343.3 872.5,343.3 872.5,345.75 873,345.75 873,343.3 875,343.3 875,340.85 875.5,340.85 875.5,343.3 876,343.3 876,340.85 880,340.85 880,338.4 881,338.4 881,340.85 881.5,340.85 881.5,338.4 885,338.4 885,335.95 890,335.95 890,333.5 892,333.5 892,331.05 896,331.05 896,328.6 901.5,328.6 901.5,326.15 902,326.15 902,328.6 902.5,328.6 902.5,326.15 904.5,326.15 904.5,323.7 906.5,323.7 906.5,321.25 907,321.25 907,323.7 908,323.7 908,321.25 912.5,321.25 912.5,318.8 914,318.8 914,321.25 914.5,321.25 914.5,318.8 915,318.8 915,321.25 915.5,321.25 915.5,318.8 928.5,318.8 928.5,321.25 929,321.25 929,318.8 930.5,318.8 930.5,321.25 931,321.25 931,318.8 931.5,318.8 931.5,321.25 932,321.25 932,318.8 932.5,318.8 932.5,321.25 933.5,321.25 933.5,318.8 934,318.8 934,321.25 934.5,321.25 934.5,318.8 946.5,318.8 946.5,321.25 947,321.25 947,318.8 949,318.8 949,321.25 950,321.25 950,318.8 951,318.8 951,321.25 952,321.25 952,318.8 952.5,318.8 952.5,321.25 953,321.25 953,318.8 955,318.8 955,321.25 955.5,321.25 955.5,318.8 956,318.8 956,321.25 956.5,321.25 956.5,318.8 958,318.8 958,321.25 958.5,321.25 958.5,318.8 960,318.8 960,321.25 960.5,321.25 960.5,318.8 961.5,318.8 961.5,321.25 962,321.25 962,318.8 965,318.8 965,321.25 965.5,321.25 965.5,318.8 968,318.8 968,321.25 968.5,321.25 968.5,318.8 971,318.8 971,321.25 971.5,321.25 971.5,318.8 978.5,318.8 978.5,321.25 979,321.25 979,318.8 980.5,318.8 980.5,321.25 981,321.25 981,318.8 981.5,318.8 981.5,321.25 982,321.25 982,318.8 984,318.8 984,321.25 984.5,321.25 984.5,318.8 985.5,318.8 985.5,321.25 986,321.25 986,318.8 992,318.8 992,316.35 992.5,316.35 992.5,318.8 996.5,318.8 996.5,316.35 997,316.35 997,318.8 998,318.8" fill="none" stroke="#0000ff" stroke-width="0.75" stroke-linejoin="miter"/>
<g stroke-width="1" fill="none"><path d="M77.5 481V471.2M77.5 313.6V323.4" stroke="#383838"/><path d="M210.5 481V471.2M210.5 313.6V323.4" stroke="#383838"/><path d="M343.5 481V471.2M343.5 313.6V323.4" stroke="#383838"/><path d="M476.5 481V471.2M476.5 313.6V323.4" stroke="#8a8a8a"/><path d="M609.5 481V471.2M609.5 313.6V323.4" stroke="#8a8a8a"/><path d="M743.5 481V471.2M743.5 313.6V323.4" stroke="#383838"/><path d="M876.5 481V471.2M876.5 313.6V323.4" stroke="#8a8a8a"/><path d="M77.1 345.5H86.9M1009.6 345.5H999.8" stroke="#383838"/><path d="M77.1 384.5H86.9M1009.6 384.5H999.8" stroke="#8a8a8a"/><path d="M77.1 423.5H86.9M1009.6 423.5H999.8" stroke="#8a8a8a"/><path d="M77.1 462.5H86.9M1009.6 462.5H999.8" stroke="#383838"/></g>
<g fill="none">
<line x1="77.1" y1="313.1" x2="77.1" y2="481.5" stroke="#505050" stroke-width="1.5"/>
<line x1="77.1" y1="313.5" x2="1009.6" y2="313.5" stroke="#303030" stroke-width="1"/>
<line x1="1009.5" y1="313.6" x2="1009.5" y2="481" stroke="#888888" stroke-width="1"/>
<line x1="76.6" y1="481" x2="1010.1" y2="481" stroke="#707070" stroke-width="1.2"/>
</g>
<g font-family='"Liberation Sans", Arial, Helvetica, sans-serif' font-size="18.8" fill="#000" text-anchor="middle"><text x="77.9" y="502.2">10</text><text x="210.4" y="502.2">12</text><text x="343.8" y="502.2">14</text><text x="476.7" y="502.2">16</text><text x="610" y="502.2">18</text><text x="743.8" y="502.2">20</text><text x="876.9" y="502.2">22</text></g>
<g font-family='"Liberation Sans", Arial, Helvetica, sans-serif' font-size="18.8" fill="#000" text-anchor="end"><text x="71.6" y="350.4">41</text><text x="71.6" y="389.5">40</text><text x="71.6" y="428.6">39</text><text x="71.6" y="468">38</text></g>
<text x="365.4" y="296.3" font-family='"Liberation Sans", Arial, Helvetica, sans-serif' font-size="32.4" fill="#000" textLength="335" lengthAdjust="spacingAndGlyphs">Sensor box temperature</text>
<text x="522.9" y="527.3" font-family='"Liberation Sans", Arial, Helvetica, sans-serif' font-size="18.8" fill="#000">hour</text>
<g stroke-width="1" stroke-dasharray="12.2 11.75" fill="none"><line x1="78.5" y1="750.4" x2="78.5" y2="582.9" stroke="#383838"/><line x1="210.5" y1="750.4" x2="210.5" y2="582.9" stroke="#383838"/><line x1="343.5" y1="750.4" x2="343.5" y2="582.9" stroke="#383838"/><line x1="476.5" y1="750.4" x2="476.5" y2="582.9" stroke="#8a8a8a"/><line x1="609.5" y1="750.4" x2="609.5" y2="582.9" stroke="#8a8a8a"/><line x1="742.5" y1="750.4" x2="742.5" y2="582.9" stroke="#383838"/><line x1="875.5" y1="750.4" x2="875.5" y2="582.9" stroke="#383838"/><line x1="1008.5" y1="750.4" x2="1008.5" y2="582.9" stroke="#383838"/><line x1="77.1" y1="597.5" x2="1009.2" y2="597.5" stroke="#8a8a8a"/><line x1="77.1" y1="632.5" x2="1009.2" y2="632.5" stroke="#383838"/><line x1="77.1" y1="666.5" x2="1009.2" y2="666.5" stroke="#8a8a8a"/><line x1="77.1" y1="700.5" x2="1009.2" y2="700.5" stroke="#383838"/><line x1="77.1" y1="734.5" x2="1009.2" y2="734.5" stroke="#8a8a8a"/></g>
<polyline points="77,690.22 77.8,689.33 78.6,690.35 79.4,685.75 80.2,686.42 81,685 81.8,685.93 82.6,684.42 83.4,682.83 84.2,684.13 85,682.89 85.8,680.43 86.6,681.55 87.4,683.1 88.2,678.38 89,683.95 89.8,683.56 90.6,676.84 91.4,681.24 92.2,680.55 93,680.05 93.8,677.12 94.6,682.73 95.4,679.15 96.2,683.44 97,680.74 97.8,680.34 98.6,681.18 99.4,681.72 100.2,683.94 101,683.68 101.8,683.05 102.6,680.25 103.4,679.95 104.2,680.37 105,680.89 105.8,680.72 106.6,681.5 107.4,680.77 108.2,679.58 109,680.11 109.8,680.36 110.6,677.73 111.4,683.54 112.2,678.97 113,679.51 113.8,680.05 114.6,680.61 115.4,677.69 116.2,677.89 117,680.27 117.8,679.48 118.6,682.37 119.4,681.15 120.2,679.62 121,680.62 121.8,679.44 122.6,681.62 123.4,680.16 124.2,682.09 125,680.94 125.8,679.71 126.6,679.71 127.4,684.13 128.2,679.63 129,678.22 129.8,677.77 130.6,679.51 131.4,677.86 132.2,677.79 133,675.11 133.8,676.71 134.6,672.25 135.4,677.4 136.2,672.91 137,678.22 137.8,676.16 138.6,675.32 139.4,675.89 140.2,676.66 141,676.33 141.8,674.83 142.6,675.65 143.4,675.03 144.2,672.94 145,673.2 145.8,676.08 146.6,673.16 147.4,674.5 148.2,673.66 149,673.44 149.8,674.9 150.6,669.31 151.4,672.83 152.2,674.8 153,672.43 153.8,667.13 154.6,674.61 155.4,672.25 156.2,670.62 157,669.27 157.8,665.98 158.6,672.83 159.4,671.29 160.2,667.51 161,667.54 161.8,669.56 162.6,666.71 163.4,668.39 164.2,667.42 165,667.78 165.8,667.71 166.6,667.46 167.4,668.58 168.2,669.04 169,674.97 169.8,672.44 170.6,670.88 171.4,674.58 172.2,674.3 173,675.11 173.8,671.61 174.6,672.58 175.4,671.17 176.2,671.68 177,666.85 177.8,664.55 178.6,659.2 179.4,662.75 180.2,661.29 181,659.33 181.8,662.15 182.6,659.47 183.4,662.18 184.2,663.66 185,661.51 185.8,658.71 186.6,662.71 187.4,663.29 188.2,666.23 189,665.3 189.8,663.61 190.6,664.65 191.4,663.17 192.2,665.21 193,666.16 193.8,664.93 194.6,664.02 195.4,660.72 196.2,663.74 197,663 197.8,665.51 198.6,661.7 199.4,658.28 200.2,661.73 201,662.39 201.8,661.74 202.6,663.5 203.4,662.17 204.2,661.51 205,661.63 205.8,664.32 206.6,661.16 207.4,663.44 208.2,663.03 209,662.27 209.8,664.37 210.6,663.04 211.4,663.39 212.2,660.78 213,661.75 213.8,660.35 214.6,661.17 215.4,661.8 216.2,660.73 217,661.89 217.8,663.62 218.6,659.85 219.4,663.91 220.2,660.42 221,661.71 221.8,659.04 222.6,664.29 223.4,659.7 224.2,656.24 225,658.79 225.8,659.31 226.6,659.32 227.4,657.99 228.2,661.35 229,657.88 229.8,656.53 230.6,658.77 231.4,659.9 232.2,657.68 233,655.61 233.8,655.67 234.6,656.87 235.4,652.6 236.2,655.54 237,656.4 237.8,655.06 238.6,658.32 239.4,658.11 240.2,657.77 241,656.56 241.8,658.96 242.6,658.44 243.4,656.8 244.2,654.82 245,652.55 245.8,655.02 246.6,652.48 247.4,655.59 248.2,651.6 249,656.97 249.8,658.05 250.6,658.06 251.4,658.07 252.2,656.82 253,657.32 253.8,654.65 254.6,656.17 255.4,655.8 256.2,654.93 257,654.24 257.8,654.36 258.6,648.1 259.4,651.29 260.2,651.44 261,653.2 261.8,650.69 262.6,649.83 263.4,649.4 264.2,649.11 265,651.61 265.8,645.97 266.6,648.19 267.4,649.71 268.2,649.48 269,644.68 269.8,648.22 270.6,646.76 271.4,650.18 272.2,651.32 273,651.28 273.8,655.49 274.6,647.49 275.4,649.61 276.2,650.3 277,649.2 277.8,649.55 278.6,645.59 279.4,649.1 280.2,649.64 281,647.52 281.8,649.28 282.6,650.01 283.4,650.17 284.2,650.69 285,649.61 285.8,651.43 286.6,652.86 287.4,650.06 288.2,650.42 289,649.36 289.8,648.28 290.6,651.3 291.4,647.98 292.2,643.24 293,646.13 293.8,644.75 294.6,644.31 295.4,644.66 296.2,643.83 297,643.79 297.8,643.16 298.6,640.36 299.4,638.54 300.2,637.56 301,637.06 301.8,635.87 302.6,635.13 303.4,637.19 304.2,632.33 305,636.07 305.8,636.01 306.6,637.36 307.4,639.33 308.2,639.22 309,641.03 309.8,639.11 310.6,640.29 311.4,637.57 312.2,639.93 313,639.2 313.8,641.17 314.6,641.18 315.4,641.3 316.2,639.75 317,639.26 317.8,639.16 318.6,639.44 319.4,640.13 320.2,638.14 321,641.82 321.8,639.16 322.6,639.94 323.4,637.1 324.2,638.76 325,639.05 325.8,638.81 326.6,637.19 327.4,638.03 328.2,637.05 329,636.59 329.8,638.77 330.6,638.78 331.4,639.08 332.2,638.85 333,642.64 333.8,645.53 334.6,649.16 335.4,647.72 336.2,651.12 337,652.19 337.8,650.53 338.6,654.41 339.4,657.06 340.2,656.48 341,657 341.8,658.44 342.6,658.66 343.4,660.27 344.2,662.2 345,662.65 345.8,663.74 346.6,665.67 347.4,665.75 348.2,668.45 349,667.54 349.8,665.64 350.6,669.23 351.4,670.54 352.2,670.38 353,670.66 353.8,670.12 354.6,670.22 355.4,671.84 356.2,671.76 357,669.96 357.8,670.76 358.6,673.22 359.4,673.81 360.2,673.71 361,675.73 361.8,671.45 362.6,674.58 363.4,673.86 364.2,675.79 365,674.71 365.8,675.9 366.6,677.46 367.4,678.85 368.2,676.42 369,678.2 369.8,679.17 370.6,678.51 371.4,677.56 372.2,679.63 373,679.68 373.8,678.72 374.6,680.31 375.4,680.42 376.2,680.21 377,680.94 377.8,683.27 378.6,678.31 379.4,682.16 380.2,683.73 381,683.31 381.8,681.56 382.6,681.89 383.4,685.12 384.2,684.82 385,685.82 385.8,685.56 386.6,685.85 387.4,686.22 388.2,686.25 389,687.47 389.8,686.66 390.6,685.53 391.4,689.9 392.2,685.84 393,688.26 393.8,686.11 394.6,687.47 395.4,685.77 396.2,688.85 397,688.02 397.8,688.49 398.6,687.96 399.4,689.16 400.2,689.92 401,689.86 401.8,691.34 402.6,687.97 403.4,690.43 404.2,689.9 405,690.63 405.8,691.09 406.6,690.68 407.4,692.47 408.2,692.03 409,690.69 409.8,691.84 410.6,692.29 411.4,693.08 412.2,695.66 413,696.81 413.8,696.59 414.6,695.47 415.4,695.29 416.2,695.79 417,697.94 417.8,695.43 418.6,698.03 419.4,696.46 420.2,698.44 421,700.07 421.8,696.64 422.6,697.68 423.4,697.67 424.2,698.56 425,698.68 425.8,698.25 426.6,695.56 427.4,697.03 428.2,698.85 429,699.21 429.8,699.6 430.6,698.99 431.4,696.79 432.2,699.31 433,699.44 433.8,696.92 434.6,700.27 435.4,702.62 436.2,702.46 437,700.17 437.8,700.42 438.6,700.96 439.4,703.14 440.2,704.1 441,703.44 441.8,702.21 442.6,702.98 443.4,700.11 444.2,705.04 445,705.22 445.8,703.35 446.6,705.22 447.4,704.57 448.2,705.47 449,704.8 449.8,706.24 450.6,705.75 451.4,706.3 452.2,707.01 453,706 453.8,708.46 454.6,710.08 455.4,706.53 456.2,704.2 457,704.41 457.8,704.52 458.6,705.55 459.4,709.57 460.2,709.94 461,712.17 461.8,711.56 462.6,711.86 463.4,714.34 464.2,714.74 465,714.52 465.8,715.43 466.6,716.18 467.4,715.27 468.2,715.32 469,716.82 469.8,714.78 470.6,711.26 471.4,714.78 472.2,715.24 473,719.03 473.8,719.32 474.6,714.36 475.4,715.11 476.2,717.35 477,718.02 477.8,717.89 478.6,719.43 479.4,719.91 480.2,720.36 481,721.98 481.8,722.06 482.6,723.15 483.4,722.66 484.2,723.1 485,722.4 485.8,721.48 486.6,721.96 487.4,723.23 488.2,723.71 489,723.11 489.8,721.66 490.6,723.51 491.4,723.17 492.2,724.55 493,724.63 493.8,723.66 494.6,723.63 495.4,725.41 496.2,722.57 497,723.22 497.8,723.65 498.6,724.56 499.4,728.92 500.2,725.03 501,725.97 501.8,725.34 502.6,725.91 503.4,728.73 504.2,726.37 505,725.85 505.8,721.53 506.6,727.13 507.4,726.75 508.2,726.5 509,726.45 509.8,728.74 510.6,727.57 511.4,727.89 512.2,731.68 513,725.05 513.8,727.2 514.6,727.32 515.4,728.21 516.2,727.17 517,728.57 517.8,726.21 518.6,729.07 519.4,726.18 520.2,727.19 521,728 521.8,726.93 522.6,728.98 523.4,728.66 524.2,728.86 525,731.72 525.8,729.88 526.6,732.62 527.4,730.88 528.2,730.94 529,726.5 529.8,733.06 530.6,731.67 531.4,730.86 532.2,730.76 533,729.54 533.8,728.48 534.6,728.93 535.4,728.52 536.2,729.61 537,730.1 537.8,729.55 538.6,730.71 539.4,730.45 540.2,730.71 541,734.09 541.8,734.36 542.6,732.92 543.4,733.19 544.2,733.2 545,734.45 545.8,735.87 546.6,736.5 547.4,738.18 548.2,738.75 549,736.73 549.8,739.85 550.6,735.27 551.4,735.31 552.2,734.72 553,730.9 553.8,732.32 554.6,732.57 555.4,732.81 556.2,732.72 557,733.13 557.8,731.99 558.6,733.21 559.4,734.11 560.2,735.08 561,735.5 561.8,734.81 562.6,732.97 563.4,735.45 564.2,737.62 565,733.26 565.8,734.5 566.6,736.07 567.4,736.43 568.2,737.74 569,739.61 569.8,739.15 570.6,739.26 571.4,740.75 572.2,739.34 573,738.54 573.8,739.48 574.6,738.05 575.4,739.32 576.2,736.22 577,735.92 577.8,733.13 578.6,733.36 579.4,733.81 580.2,732.62 581,733.13 581.8,733.75 582.6,733.94 583.4,734.01 584.2,733.93 585,734.87 585.8,733.97 586.6,735.83 587.4,734.08 588.2,732.59 589,734.6 589.8,732.49 590.6,732.37 591.4,735.71 592.2,737.76 593,737.12 593.8,737.18 594.6,737.18 595.4,736.84 596.2,737.5 597,736.79 597.8,736.81 598.6,737.52 599.4,741.2 600.2,738.64 601,738.16 601.8,738.25 602.6,736.58 603.4,738.57 604.2,737.92 605,737.17 605.8,738.53 606.6,738.76 607.4,738.8 608.2,738.72 609,740.02 609.8,740.79 610.6,740.96 611.4,740.5 612.2,741.81 613,741.02 613.8,741.53 614.6,739.13 615.4,739.84 616.2,737.82 617,739.4 617.8,736.94 618.6,738.24 619.4,739.24 620.2,739.72 621,742.97 621.8,739.6 622.6,740.12 623.4,741.3 624.2,741.27 625,739.17 625.8,736.76 626.6,738.86 627.4,738.03 628.2,738.48 629,737.2 629.8,735.65 630.6,733.63 631.4,733.97 632.2,731.6 633,728.24 633.8,727.16 634.6,726.53 635.4,723.1 636.2,721.15 637,723.57 637.8,723.09 638.6,724.29 639.4,726.03 640.2,725.79 641,726.48 641.8,726.89 642.6,728.26 643.4,726.28 644.2,726.8 645,723.8 645.8,721.8 646.6,722.89 647.4,720.54 648.2,722.82 649,719.95 649.8,719.37 650.6,721.66 651.4,722.37 652.2,723.28 653,722.58 653.8,727.97 654.6,721.36 655.4,726.22 656.2,721.62 657,720.05 657.8,718.94 658.6,718.64 659.4,716.69 660.2,718.28 661,715.79 661.8,716.47 662.6,715.49 663.4,715.89 664.2,716.47 665,718.27 665.8,716.48 666.6,714.79 667.4,717.03 668.2,715.2 669,714.05 669.8,713.49 670.6,712.53 671.4,709.9 672.2,709.03 673,708.61 673.8,707.35 674.6,707.49 675.4,706.6 676.2,705.8 677,703.6 677.8,704.82 678.6,703.96 679.4,701.76 680.2,702 681,701.25 681.8,699.34 682.6,698.69 683.4,698.49 684.2,695.81 685,693.42 685.8,694.76 686.6,693.53 687.4,692.82 688.2,692.95 689,694.41 689.8,692.74 690.6,692.64 691.4,691.84 692.2,691.99 693,691.71 693.8,691.97 694.6,692.21 695.4,689.22 696.2,689.98 697,689.81 697.8,688.75 698.6,688.47 699.4,688.52 700.2,685.34 701,687.47 701.8,687.54 702.6,687.35 703.4,682.33 704.2,685.55 705,685.44 705.8,682.55 706.6,685.64 707.4,682.51 708.2,682.31 709,682.85 709.8,679.46 710.6,681.9 711.4,683.8 712.2,680.18 713,679.58 713.8,679.11 714.6,680.53 715.4,678.41 716.2,680.68 717,680.37 717.8,681.5 718.6,678 719.4,677.01 720.2,677.62 721,675.39 721.8,674.88 722.6,675.68 723.4,674.16 724.2,673.3 725,673.43 725.8,673.1 726.6,672.26 727.4,672.3 728.2,672.63 729,673.27 729.8,666.01 730.6,669.06 731.4,668.85 732.2,666.98 733,667.19 733.8,667.19 734.6,665.69 735.4,665.98 736.2,666.7 737,666.15 737.8,664.86 738.6,664.71 739.4,664.26 740.2,664.73 741,665.24 741.8,665.25 742.6,665.76 743.4,664.79 744.2,664.65 745,664.12 745.8,664.45 746.6,664.26 747.4,662.05 748.2,662.68 749,664.29 749.8,662.76 750.6,661.99 751.4,661.83 752.2,659.51 753,658.59 753.8,659.81 754.6,659.48 755.4,660.36 756.2,657.1 757,658.54 757.8,657.11 758.6,655.93 759.4,654.02 760.2,653.82 761,654.13 761.8,653.57 762.6,654.18 763.4,653.95 764.2,653.23 765,654.77 765.8,652.87 766.6,654.09 767.4,655.02 768.2,652.99 769,653.38 769.8,651.98 770.6,651.13 771.4,650.04 772.2,645.65 773,647.59 773.8,648.37 774.6,648.07 775.4,648.57 776.2,652.02 777,650.74 777.8,651.83 778.6,646.05 779.4,639.08 780.2,639.07 781,635.87 781.8,632.15 782.6,631.81 783.4,630.26 784.2,627 785,629.08 785.8,627.46 786.6,628.1 787.4,628.95 788.2,626.13 789,626.63 789.8,627.53 790.6,626.12 791.4,623.72 792.2,624.19 793,622.22 793.8,623.2 794.6,621.62 795.4,622.18 796.2,622.5 797,621.03 797.8,620.69 798.6,620.04 799.4,619.13 800.2,619.31 801,619.69 801.8,619.46 802.6,618.77 803.4,617.06 804.2,618.16 805,619.44 805.8,618.44 806.6,617.35 807.4,616.94 808.2,617.13 809,615.46 809.8,616.06 810.6,615.7 811.4,615.42 812.2,615.9 813,615.45 813.8,614.72 814.6,614.14 815.4,613.84 816.2,612.91 817,613.71 817.8,612.05 818.6,611.36 819.4,611.83 820.2,609.3 821,610.61 821.8,611.14 822.6,609.09 823.4,609.63 824.2,608.83 825,609.75 825.8,609.17 826.6,609.7 827.4,608.85 828.2,607.73 829,608.13 829.8,608.45 830.6,609.2 831.4,607.64 832.2,608.3 833,608.77 833.8,608.86 834.6,607.67 835.4,608.07 836.2,609.25 837,607.8 837.8,607.12 838.6,609.17 839.4,606.18 840.2,606.96 841,606.23 841.8,606.24 842.6,605.04 843.4,605.81 844.2,605.34 845,605.42 845.8,604.72 846.6,605.24 847.4,602.84 848.2,605.17 849,604.92 849.8,603.9 850.6,603.57 851.4,602.75 852.2,603.97 853,603.35 853.8,603.27 854.6,604.3 855.4,603.58 856.2,604.85 857,604.31 857.8,604.72 858.6,604.89 859.4,605.62 860.2,602.76 861,600.99 861.8,602.96 862.6,602.97 863.4,602.2 864.2,601.11 865,601.05 865.8,599.21 866.6,601.64 867.4,602.48 868.2,601 869,602.2 869.8,600.65 870.6,601.04 871.4,600.49 872.2,600.29 873,600.19 873.8,599.81 874.6,600.25 875.4,601.69 876.2,600.22 877,600.85 877.8,599.48 878.6,600.07 879.4,598.91 880.2,599.99 881,599.97 881.8,600.87 882.6,598.53 883.4,597.7 884.2,597.18 885,598.02 885.8,596.02 886.6,594.79 887.4,594.84 888.2,592.6 889,592.84 889.8,593.46 890.6,591.8 891.4,593.08 892.2,592.01 893,593.11 893.8,592.76 894.6,593.41 895.4,593.43 896.2,596.99 897,593.08 897.8,593.7 898.6,592.36 899.4,591.32 900.2,589.79 901,590.83 901.8,588.05 902.6,588.11 903.4,587.97 904.2,592.06 905,590.72 905.8,589.78 906.6,588.81 907.4,586.68 908.2,588.12 909,586.77 909.8,586.84 910.6,586.33 911.4,586.45 912.2,591.87 913,593.51 913.8,594.34 914.6,595.74 915.4,596.94 916.2,597.23 917,598.49 917.8,599.66 918.6,600.37 919.4,603.83 920.2,607.18 921,606.74 921.8,607.78 922.6,608.75 923.4,609.43 924.2,609.56 925,610.89 925.8,611.34 926.6,611.93 927.4,612.67 928.2,612.01 929,613.39 929.8,612.51 930.6,614.6 931.4,612.74 932.2,612.91 933,615.07 933.8,616.18 934.6,616.4 935.4,617.46 936.2,619.03 937,617.66 937.8,619.18 938.6,617.61 939.4,619.91 940.2,618.73 941,618.64 941.8,617.86 942.6,619.65 943.4,621.53 944.2,621.29 945,623.32 945.8,623.69 946.6,624.67 947.4,624.09 948.2,622.86 949,623.64 949.8,624.12 950.6,624.93 951.4,628.43 952.2,627.26 953,626.95 953.8,627.17 954.6,627.39 955.4,626.95 956.2,627.85 957,627.34 957.8,626 958.6,627 959.4,626.67 960.2,626.75 961,626.78 961.8,626.61 962.6,627.86 963.4,626.19 964.2,624.99 965,626.04 965.8,623.5 966.6,624.25 967.4,623.91 968.2,624.74 969,624.83 969.8,624.57 970.6,625.26 971.4,624.58 972.2,625.8 973,624.39 973.8,625.8 974.6,625.72 975.4,627.01 976.2,628.13 977,627.16 977.8,626.95 978.6,628.54 979.4,627.98 980.2,626.79 981,627.17 981.8,627.48 982.6,628.19 983.4,627.26 984.2,627.17 985,627.8 985.8,624.04 986.6,626.74 987.4,629.41 988.2,626.93 989,626.57 989.8,626.85 990.6,626.32 991.4,626.79 992.2,625.69 993,626.13 993.8,625.64 994.6,625.68 995.4,626.19 996.2,624.95 997,626.08 997.8,626.57" fill="none" stroke="#0000ff" stroke-width="0.85" stroke-linejoin="miter" stroke-miterlimit="2"/>
<g stroke-width="1" fill="none"><path d="M78.5 750.4V740.6M78.5 582.9V592.7" stroke="#383838"/><path d="M210.5 750.4V740.6M210.5 582.9V592.7" stroke="#383838"/><path d="M343.5 750.4V740.6M343.5 582.9V592.7" stroke="#383838"/><path d="M476.5 750.4V740.6M476.5 582.9V592.7" stroke="#8a8a8a"/><path d="M609.5 750.4V740.6M609.5 582.9V592.7" stroke="#8a8a8a"/><path d="M742.5 750.4V740.6M742.5 582.9V592.7" stroke="#383838"/><path d="M875.5 750.4V740.6M875.5 582.9V592.7" stroke="#383838"/><path d="M1008.5 750.4V740.6M1008.5 582.9V592.7" stroke="#383838"/><path d="M77.1 597.5H86.9M1009.2 597.5H999.4" stroke="#8a8a8a"/><path d="M77.1 632.5H86.9M1009.2 632.5H999.4" stroke="#383838"/><path d="M77.1 666.5H86.9M1009.2 666.5H999.4" stroke="#8a8a8a"/><path d="M77.1 700.5H86.9M1009.2 700.5H999.4" stroke="#383838"/><path d="M77.1 734.5H86.9M1009.2 734.5H999.4" stroke="#8a8a8a"/></g>
<g fill="none">
<line x1="77.1" y1="582.4" x2="77.1" y2="750.9" stroke="#505050" stroke-width="1.5"/>
<line x1="77.1" y1="583" x2="1009.2" y2="583" stroke="#999999" stroke-width="1"/>
<line x1="1009.2" y1="582.9" x2="1009.2" y2="750.4" stroke="#888888" stroke-width="1.2"/>
<line x1="76.6" y1="750.5" x2="1009.7" y2="750.5" stroke="#808080" stroke-width="1.2"/>
</g>
<g font-family='"Liberation Sans", Arial, Helvetica, sans-serif' font-size="18.8" fill="#000" text-anchor="middle"><text x="78.6" y="772">10</text><text x="210.5" y="772">12</text><text x="343.8" y="772">14</text><text x="476.9" y="772">16</text><text x="610.1" y="772">18</text><text x="742.4" y="772">20</text><text x="875.6" y="772">22</text><text x="1008.9" y="772">24</text></g>
<g font-family='"Liberation Sans", Arial, Helvetica, sans-serif' font-size="18.8" fill="#000" text-anchor="end"><text x="71.6" y="602.4">34</text><text x="71.6" y="637.1">32</text><text x="71.6" y="671.8">30</text><text x="71.6" y="705.1">28</text><text x="71.6" y="739.7">26</text></g>
<text x="357.5" y="565" font-family='"Liberation Sans", Arial, Helvetica, sans-serif' font-size="32.4" fill="#000" textLength="350" lengthAdjust="spacingAndGlyphs">Environment temperature</text>
<text x="225.9" y="786.3" font-family='"Liberation Sans", Arial, Helvetica, sans-serif' font-size="18.8" fill="#000">hour</text>
<clipPath id="ylc"><rect x="4.3" y="100" width="40" height="60"/></clipPath>
<g clip-path="url(#ylc)"><text x="0" y="0" font-family='"WenQuanYi Zen Hei", "Noto Sans CJK SC", sans-serif' font-size="21.3" fill="#000" transform="translate(8.8 140.2) rotate(-90)">&#8451;</text></g>
<text x="0" y="0" font-family='"WenQuanYi Zen Hei", "Noto Sans CJK SC", sans-serif' font-size="21.3" fill="#000" transform="translate(35.3 409.2) rotate(-90)">&#8451;</text>
<text x="0" y="0" font-family='"WenQuanYi Zen Hei", "Noto Sans CJK SC", sans-serif' font-size="21.3" fill="#000" transform="translate(35.3 678.6) rotate(-90)">&#8451;</text>
</svg></body></html>
